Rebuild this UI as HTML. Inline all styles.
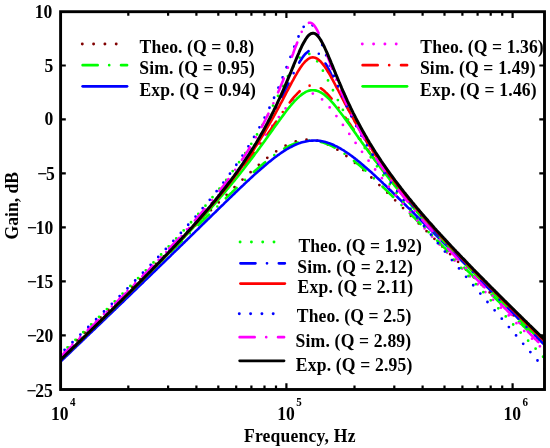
<!DOCTYPE html><html><head><meta charset="utf-8"><style>html,body{margin:0;padding:0;background:#fff;}svg{display:block}</style></head><body>
<svg width="550" height="448" viewBox="0 0 550 448">
<rect width="550" height="448" fill="#fff"/>
<defs><clipPath id="ax"><rect x="60.6" y="11.7" width="483.9" height="377.8"/></clipPath></defs>
<g clip-path="url(#ax)">
<path d="M60.2,356.1 61.4,355.0 62.5,353.9 63.7,352.8 64.8,351.6 66.0,350.5 67.2,349.4 68.3,348.3 69.5,347.2 70.6,346.1 71.8,345.0 72.9,343.9 74.1,342.8 75.3,341.7 76.4,340.5 77.6,339.4 78.7,338.3 79.9,337.2 81.1,336.1 82.2,335.0 83.4,333.9 84.5,332.8 85.7,331.7 86.8,330.5 88.0,329.4 89.2,328.3 90.3,327.2 91.5,326.1 92.6,325.0 93.8,323.9 95.0,322.8 96.1,321.7 97.3,320.5 98.4,319.4 99.6,318.3 100.8,317.2 101.9,316.1 103.1,315.0 104.2,313.9 105.4,312.7 106.5,311.6 107.7,310.5 108.9,309.4 110.0,308.3 111.2,307.2 112.3,306.1 113.5,304.9 114.7,303.8 115.8,302.7 117.0,301.6 118.1,300.5 119.3,299.4 120.4,298.3 121.6,297.1 122.8,296.0 123.9,294.9 125.1,293.8 126.2,292.7 127.4,291.6 128.6,290.4 129.7,289.3 130.9,288.2 132.0,287.1 133.2,286.0 134.4,284.8 135.5,283.7 136.7,282.6 137.8,281.5 139.0,280.4 140.1,279.2 141.3,278.1 142.5,277.0 143.6,275.9 144.8,274.8 145.9,273.6 147.1,272.5 148.3,271.4 149.4,270.3 150.6,269.1 151.7,268.0 152.9,266.9 154.0,265.8 155.2,264.7 156.4,263.5 157.5,262.4 158.7,261.3 159.8,260.1 161.0,259.0 162.2,257.9 163.3,256.8 164.5,255.6 165.6,254.5 166.8,253.4 167.9,252.3 169.1,251.1 170.3,250.0 171.4,248.9 172.6,247.7 173.7,246.6 174.9,245.5 176.1,244.3 177.2,243.2 178.4,242.1 179.5,240.9 180.7,239.8 181.9,238.7 183.0,237.5 184.2,236.4 185.3,235.3 186.5,234.1 187.6,233.0 188.8,231.9 190.0,230.7 191.1,229.6 192.3,228.5 193.4,227.3 194.6,226.2 195.8,225.1 196.9,223.9 198.1,222.8 199.2,221.6 200.4,220.5 201.5,219.4 202.7,218.2 203.9,217.1 205.0,216.0 206.2,214.8 207.3,213.7 208.5,212.5 209.7,211.4 210.8,210.3 212.0,209.1 213.1,208.0 214.3,206.9 215.5,205.7 216.6,204.6 217.8,203.5 218.9,202.3 220.1,201.2 221.2,200.1 222.4,198.9 223.6,197.8 224.7,196.7 225.9,195.5 227.0,194.4 228.2,193.3 229.4,192.2 230.5,191.0 231.7,189.9 232.8,188.8 234.0,187.7 235.1,186.6 236.3,185.5 237.5,184.4 238.6,183.3 239.8,182.2 240.9,181.1 242.1,180.0 243.3,178.9 244.4,177.8 245.6,176.7 246.7,175.7 247.9,174.6 249.1,173.5 250.2,172.5 251.4,171.4 252.5,170.4 253.7,169.3 254.8,168.3 256.0,167.3 257.2,166.3 258.3,165.3 259.5,164.3 260.6,163.3 261.8,162.3 263.0,161.4 264.1,160.4 265.3,159.5 266.4,158.5 267.6,157.6 268.7,156.7 269.9,155.9 271.1,155.0 272.2,154.1 273.4,153.3 274.5,152.5 275.7,151.7 276.9,150.9 278.0,150.1 279.2,149.4 280.3,148.7 281.5,148.0 282.7,147.3 283.8,146.7 285.0,146.0 286.1,145.4 287.3,144.8 288.4,144.3 289.6,143.8 290.8,143.3 291.9,142.8 293.1,142.4 294.2,142.0 295.4,141.6 296.6,141.3 297.7,140.9 298.9,140.7 300.0,140.4 301.2,140.2 302.3,140.0 303.5,139.9 304.7,139.7 305.8,139.7 307.0,139.6 308.1,139.6 309.3,139.6 310.5,139.7 311.6,139.8 312.8,139.9 313.9,140.0 315.1,140.2 316.3,140.4 317.4,140.7 318.6,141.0 319.7,141.3 320.9,141.6 322.0,142.0 323.2,142.4 324.4,142.9 325.5,143.3 326.7,143.8 327.8,144.4 329.0,144.9 330.2,145.5 331.3,146.1 332.5,146.7 333.6,147.4 334.8,148.1 335.9,148.8 337.1,149.5 338.3,150.2 339.4,151.0 340.6,151.8 341.7,152.6 342.9,153.4 344.1,154.2 345.2,155.1 346.4,156.0 347.5,156.9 348.7,157.8 349.9,158.7 351.0,159.6 352.2,160.5 353.3,161.5 354.5,162.5 355.6,163.4 356.8,164.4 358.0,165.4 359.1,166.4 360.3,167.4 361.4,168.5 362.6,169.5 363.8,170.5 364.9,171.6 366.1,172.6 367.2,173.7 368.4,174.7 369.5,175.8 370.7,176.9 371.9,178.0 373.0,179.0 374.2,180.1 375.3,181.2 376.5,182.3 377.7,183.4 378.8,184.5 380.0,185.6 381.1,186.7 382.3,187.8 383.4,189.0 384.6,190.1 385.8,191.2 386.9,192.3 388.1,193.4 389.2,194.6 390.4,195.7 391.6,196.8 392.7,197.9 393.9,199.1 395.0,200.2 396.2,201.3 397.4,202.5 398.5,203.6 399.7,204.7 400.8,205.9 402.0,207.0 403.1,208.1 404.3,209.3 405.5,210.4 406.6,211.6 407.8,212.7 408.9,213.8 410.1,215.0 411.3,216.1 412.4,217.2 413.6,218.4 414.7,219.5 415.9,220.7 417.0,221.8 418.2,222.9 419.4,224.1 420.5,225.2 421.7,226.3 422.8,227.5 424.0,228.6 425.2,229.8 426.3,230.9 427.5,232.0 428.6,233.2 429.8,234.3 431.0,235.4 432.1,236.6 433.3,237.7 434.4,238.8 435.6,240.0 436.7,241.1 437.9,242.2 439.1,243.4 440.2,244.5 441.4,245.6 442.5,246.8 443.7,247.9 444.9,249.0 446.0,250.1 447.2,251.3 448.3,252.4 449.5,253.5 450.6,254.7 451.8,255.8 453.0,256.9 454.1,258.0 455.3,259.2 456.4,260.3 457.6,261.4 458.8,262.5 459.9,263.7 461.1,264.8 462.2,265.9 463.4,267.0 464.6,268.2 465.7,269.3 466.9,270.4 468.0,271.5 469.2,272.7 470.3,273.8 471.5,274.9 472.7,276.0 473.8,277.2 475.0,278.3 476.1,279.4 477.3,280.5 478.5,281.6 479.6,282.8 480.8,283.9 481.9,285.0 483.1,286.1 484.2,287.2 485.4,288.3 486.6,289.5 487.7,290.6 488.9,291.7 490.0,292.8 491.2,293.9 492.4,295.1 493.5,296.2 494.7,297.3 495.8,298.4 497.0,299.5 498.2,300.6 499.3,301.8 500.5,302.9 501.6,304.0 502.8,305.1 503.9,306.2 505.1,307.3 506.3,308.4 507.4,309.6 508.6,310.7 509.7,311.8 510.9,312.9 512.1,314.0 513.2,315.1 514.4,316.2 515.5,317.4 516.7,318.5 517.8,319.6 519.0,320.7 520.2,321.8 521.3,322.9 522.5,324.0 523.6,325.1 524.8,326.2 526.0,327.4 527.1,328.5 528.3,329.6 529.4,330.7 530.6,331.8 531.8,332.9 532.9,334.0 534.1,335.1 535.2,336.2 536.4,337.4 537.5,338.5 538.7,339.6 539.9,340.7 541.0,341.8 542.2,342.9 543.3,344.0 544.5,345.1 545.7,346.2" stroke="#800000" stroke-width="2.8" fill="none" stroke-linecap="round" stroke-dasharray="0 11.0" stroke-dashoffset="10.14"/>
<path d="M60.2,358.3 61.4,357.2 62.5,356.1 63.7,355.0 64.8,353.9 66.0,352.8 67.2,351.7 68.3,350.6 69.5,349.5 70.6,348.4 71.8,347.3 72.9,346.1 74.1,345.0 75.3,343.9 76.4,342.8 77.6,341.7 78.7,340.6 79.9,339.5 81.1,338.4 82.2,337.3 83.4,336.2 84.5,335.0 85.7,333.9 86.8,332.8 88.0,331.7 89.2,330.6 90.3,329.5 91.5,328.4 92.6,327.3 93.8,326.2 95.0,325.0 96.1,323.9 97.3,322.8 98.4,321.7 99.6,320.6 100.8,319.5 101.9,318.4 103.1,317.3 104.2,316.2 105.4,315.0 106.5,313.9 107.7,312.8 108.9,311.7 110.0,310.6 111.2,309.5 112.3,308.4 113.5,307.2 114.7,306.1 115.8,305.0 117.0,303.9 118.1,302.8 119.3,301.7 120.4,300.6 121.6,299.4 122.8,298.3 123.9,297.2 125.1,296.1 126.2,295.0 127.4,293.9 128.6,292.8 129.7,291.6 130.9,290.5 132.0,289.4 133.2,288.3 134.4,287.2 135.5,286.1 136.7,284.9 137.8,283.8 139.0,282.7 140.1,281.6 141.3,280.5 142.5,279.3 143.6,278.2 144.8,277.1 145.9,276.0 147.1,274.9 148.3,273.7 149.4,272.6 150.6,271.5 151.7,270.4 152.9,269.3 154.0,268.1 155.2,267.0 156.4,265.9 157.5,264.8 158.7,263.6 159.8,262.5 161.0,261.4 162.2,260.3 163.3,259.2 164.5,258.0 165.6,256.9 166.8,255.8 167.9,254.7 169.1,253.5 170.3,252.4 171.4,251.3 172.6,250.1 173.7,249.0 174.9,247.9 176.1,246.8 177.2,245.6 178.4,244.5 179.5,243.4 180.7,242.3 181.9,241.1 183.0,240.0 184.2,238.9 185.3,237.7 186.5,236.6 187.6,235.5 188.8,234.3 190.0,233.2 191.1,232.1 192.3,230.9 193.4,229.8 194.6,228.7 195.8,227.5 196.9,226.4 198.1,225.3 199.2,224.2 200.4,223.0 201.5,221.9 202.7,220.8 203.9,219.6 205.0,218.5 206.2,217.4 207.3,216.2 208.5,215.1 209.7,214.0 210.8,212.8 212.0,211.7 213.1,210.6 214.3,209.4 215.5,208.3 216.6,207.2 217.8,206.0 218.9,204.9 220.1,203.8 221.2,202.7 222.4,201.5 223.6,200.4 224.7,199.3 225.9,198.2 227.0,197.1 228.2,195.9 229.4,194.8 230.5,193.7 231.7,192.6 232.8,191.5 234.0,190.4 235.1,189.3 236.3,188.1 237.5,187.0 238.6,185.9 239.8,184.9 240.9,183.8 242.1,182.7 243.3,181.6 244.4,180.5 245.6,179.4 246.7,178.3 247.9,177.3 249.1,176.2 250.2,175.2 251.4,174.1 252.5,173.1 253.7,172.0 254.8,171.0 256.0,170.0 257.2,169.0 258.3,167.9 259.5,166.9 260.6,166.0 261.8,165.0 263.0,164.0 264.1,163.0 265.3,162.1 266.4,161.1 267.6,160.2 268.7,159.3 269.9,158.4 271.1,157.5 272.2,156.6 273.4,155.8 274.5,155.0 275.7,154.1 276.9,153.3 278.0,152.5 279.2,151.8 280.3,151.0 281.5,150.3 282.7,149.6 283.8,148.9 285.0,148.2 286.1,147.6 287.3,147.0 288.4,146.4 289.6,145.8 290.8,145.3 291.9,144.7 293.1,144.3 294.2,143.8 295.4,143.4 296.6,143.0 297.7,142.6 298.9,142.3 300.0,141.9 301.2,141.7 302.3,141.4 303.5,141.2 304.7,141.0 305.8,140.9 307.0,140.7 308.1,140.7 309.3,140.6 310.5,140.6 311.6,140.6 312.8,140.7 313.9,140.7 315.1,140.9 316.3,141.0 317.4,141.2 318.6,141.4 319.7,141.7 320.9,141.9 322.0,142.2 323.2,142.6 324.4,143.0 325.5,143.4 326.7,143.8 327.8,144.3 329.0,144.7 330.2,145.3 331.3,145.8 332.5,146.4 333.6,147.0 334.8,147.6 335.9,148.2 337.1,148.9 338.3,149.6 339.4,150.3 340.6,151.0 341.7,151.8 342.9,152.6 344.1,153.4 345.2,154.2 346.4,155.0 347.5,155.9 348.7,156.7 349.9,157.6 351.0,158.5 352.2,159.4 353.3,160.3 354.5,161.3 355.6,162.2 356.8,163.2 358.0,164.1 359.1,165.1 360.3,166.1 361.4,167.1 362.6,168.1 363.8,169.1 364.9,170.2 366.1,171.2 367.2,172.2 368.4,173.3 369.5,174.4 370.7,175.4 371.9,176.5 373.0,177.6 374.2,178.6 375.3,179.7 376.5,180.8 377.7,181.9 378.8,183.0 380.0,184.1 381.1,185.2 382.3,186.3 383.4,187.5 384.6,188.6 385.8,189.7 386.9,190.8 388.1,191.9 389.2,193.1 390.4,194.2 391.6,195.3 392.7,196.5 393.9,197.6 395.0,198.7 396.2,199.9 397.4,201.0 398.5,202.2 399.7,203.3 400.8,204.4 402.0,205.6 403.1,206.7 404.3,207.9 405.5,209.0 406.6,210.2 407.8,211.3 408.9,212.5 410.1,213.6 411.3,214.8 412.4,215.9 413.6,217.1 414.7,218.2 415.9,219.4 417.0,220.6 418.2,221.7 419.4,222.9 420.5,224.0 421.7,225.2 422.8,226.3 424.0,227.5 425.2,228.6 426.3,229.8 427.5,230.9 428.6,232.1 429.8,233.2 431.0,234.4 432.1,235.6 433.3,236.7 434.4,237.9 435.6,239.0 436.7,240.2 437.9,241.3 439.1,242.5 440.2,243.6 441.4,244.8 442.5,245.9 443.7,247.1 444.9,248.2 446.0,249.4 447.2,250.6 448.3,251.7 449.5,252.9 450.6,254.0 451.8,255.2 453.0,256.3 454.1,257.5 455.3,258.6 456.4,259.8 457.6,260.9 458.8,262.1 459.9,263.2 461.1,264.4 462.2,265.5 463.4,266.7 464.6,267.8 465.7,269.0 466.9,270.1 468.0,271.3 469.2,272.4 470.3,273.6 471.5,274.7 472.7,275.9 473.8,277.0 475.0,278.2 476.1,279.3 477.3,280.5 478.5,281.6 479.6,282.8 480.8,283.9 481.9,285.0 483.1,286.2 484.2,287.3 485.4,288.5 486.6,289.6 487.7,290.8 488.9,291.9 490.0,293.1 491.2,294.2 492.4,295.4 493.5,296.5 494.7,297.7 495.8,298.8 497.0,299.9 498.2,301.1 499.3,302.2 500.5,303.4 501.6,304.5 502.8,305.7 503.9,306.8 505.1,308.0 506.3,309.1 507.4,310.2 508.6,311.4 509.7,312.5 510.9,313.7 512.1,314.8 513.2,316.0 514.4,317.1 515.5,318.3 516.7,319.4 517.8,320.5 519.0,321.7 520.2,322.8 521.3,324.0 522.5,325.1 523.6,326.3 524.8,327.4 526.0,328.5 527.1,329.7 528.3,330.8 529.4,332.0 530.6,333.1 531.8,334.2 532.9,335.4 534.1,336.5 535.2,337.7 536.4,338.8 537.5,340.0 538.7,341.1 539.9,342.2 541.0,343.4 542.2,344.5 543.3,345.7 544.5,346.8 545.7,347.9" stroke="#00ff00" stroke-width="2.6" fill="none" stroke-linecap="round" stroke-dasharray="15 11.55 0 11.85" stroke-dashoffset="0"/>
<path d="M60.2,361.9 61.4,360.8 62.5,359.7 63.7,358.6 64.8,357.5 66.0,356.4 67.2,355.3 68.3,354.2 69.5,353.1 70.6,352.0 71.8,350.9 72.9,349.7 74.1,348.6 75.3,347.5 76.4,346.4 77.6,345.3 78.7,344.2 79.9,343.1 81.1,342.0 82.2,340.9 83.4,339.8 84.5,338.7 85.7,337.5 86.8,336.4 88.0,335.3 89.2,334.2 90.3,333.1 91.5,332.0 92.6,330.9 93.8,329.8 95.0,328.7 96.1,327.5 97.3,326.4 98.4,325.3 99.6,324.2 100.8,323.1 101.9,322.0 103.1,320.9 104.2,319.8 105.4,318.7 106.5,317.5 107.7,316.4 108.9,315.3 110.0,314.2 111.2,313.1 112.3,312.0 113.5,310.9 114.7,309.8 115.8,308.6 117.0,307.5 118.1,306.4 119.3,305.3 120.4,304.2 121.6,303.1 122.8,302.0 123.9,300.8 125.1,299.7 126.2,298.6 127.4,297.5 128.6,296.4 129.7,295.3 130.9,294.1 132.0,293.0 133.2,291.9 134.4,290.8 135.5,289.7 136.7,288.6 137.8,287.4 139.0,286.3 140.1,285.2 141.3,284.1 142.5,283.0 143.6,281.9 144.8,280.7 145.9,279.6 147.1,278.5 148.3,277.4 149.4,276.3 150.6,275.1 151.7,274.0 152.9,272.9 154.0,271.8 155.2,270.7 156.4,269.5 157.5,268.4 158.7,267.3 159.8,266.2 161.0,265.0 162.2,263.9 163.3,262.8 164.5,261.7 165.6,260.6 166.8,259.4 167.9,258.3 169.1,257.2 170.3,256.1 171.4,254.9 172.6,253.8 173.7,252.7 174.9,251.5 176.1,250.4 177.2,249.3 178.4,248.2 179.5,247.0 180.7,245.9 181.9,244.8 183.0,243.7 184.2,242.5 185.3,241.4 186.5,240.3 187.6,239.1 188.8,238.0 190.0,236.9 191.1,235.7 192.3,234.6 193.4,233.5 194.6,232.4 195.8,231.2 196.9,230.1 198.1,229.0 199.2,227.8 200.4,226.7 201.5,225.6 202.7,224.4 203.9,223.3 205.0,222.2 206.2,221.0 207.3,219.9 208.5,218.8 209.7,217.6 210.8,216.5 212.0,215.4 213.1,214.2 214.3,213.1 215.5,212.0 216.6,210.8 217.8,209.7 218.9,208.6 220.1,207.4 221.2,206.3 222.4,205.2 223.6,204.1 224.7,202.9 225.9,201.8 227.0,200.7 228.2,199.6 229.4,198.4 230.5,197.3 231.7,196.2 232.8,195.1 234.0,194.0 235.1,192.8 236.3,191.7 237.5,190.6 238.6,189.5 239.8,188.4 240.9,187.3 242.1,186.2 243.3,185.1 244.4,184.0 245.6,182.9 246.7,181.8 247.9,180.8 249.1,179.7 250.2,178.6 251.4,177.5 252.5,176.5 253.7,175.4 254.8,174.4 256.0,173.3 257.2,172.3 258.3,171.2 259.5,170.2 260.6,169.2 261.8,168.2 263.0,167.2 264.1,166.2 265.3,165.2 266.4,164.2 267.6,163.2 268.7,162.3 269.9,161.4 271.1,160.4 272.2,159.5 273.4,158.6 274.5,157.7 275.7,156.8 276.9,156.0 278.0,155.1 279.2,154.3 280.3,153.5 281.5,152.7 282.7,151.9 283.8,151.2 285.0,150.4 286.1,149.7 287.3,149.0 288.4,148.3 289.6,147.7 290.8,147.1 291.9,146.5 293.1,145.9 294.2,145.3 295.4,144.8 296.6,144.3 297.7,143.9 298.9,143.4 300.0,143.0 301.2,142.6 302.3,142.3 303.5,142.0 304.7,141.7 305.8,141.4 307.0,141.2 308.1,141.0 309.3,140.8 310.5,140.7 311.6,140.6 312.8,140.6 313.9,140.5 315.1,140.5 316.3,140.6 317.4,140.7 318.6,140.8 319.7,140.9 320.9,141.1 322.0,141.3 323.2,141.5 324.4,141.8 325.5,142.1 326.7,142.4 327.8,142.8 329.0,143.2 330.2,143.6 331.3,144.0 332.5,144.5 333.6,145.0 334.8,145.6 335.9,146.1 337.1,146.7 338.3,147.3 339.4,148.0 340.6,148.6 341.7,149.3 342.9,150.0 344.1,150.7 345.2,151.5 346.4,152.3 347.5,153.0 348.7,153.8 349.9,154.7 351.0,155.5 352.2,156.4 353.3,157.2 354.5,158.1 355.6,159.0 356.8,159.9 358.0,160.9 359.1,161.8 360.3,162.8 361.4,163.7 362.6,164.7 363.8,165.7 364.9,166.7 366.1,167.7 367.2,168.7 368.4,169.7 369.5,170.8 370.7,171.8 371.9,172.8 373.0,173.9 374.2,175.0 375.3,176.0 376.5,177.1 377.7,178.2 378.8,179.2 380.0,180.3 381.1,181.4 382.3,182.5 383.4,183.6 384.6,184.7 385.8,185.8 386.9,186.9 388.1,188.0 389.2,189.2 390.4,190.3 391.6,191.4 392.7,192.5 393.9,193.6 395.0,194.8 396.2,195.9 397.4,197.0 398.5,198.2 399.7,199.3 400.8,200.4 402.0,201.6 403.1,202.7 404.3,203.8 405.5,205.0 406.6,206.1 407.8,207.3 408.9,208.4 410.1,209.6 411.3,210.7 412.4,211.8 413.6,213.0 414.7,214.1 415.9,215.3 417.0,216.4 418.2,217.6 419.4,218.7 420.5,219.9 421.7,221.0 422.8,222.2 424.0,223.3 425.2,224.5 426.3,225.6 427.5,226.8 428.6,227.9 429.8,229.0 431.0,230.2 432.1,231.3 433.3,232.5 434.4,233.6 435.6,234.8 436.7,235.9 437.9,237.1 439.1,238.2 440.2,239.4 441.4,240.5 442.5,241.7 443.7,242.8 444.9,244.0 446.0,245.1 447.2,246.2 448.3,247.4 449.5,248.5 450.6,249.7 451.8,250.8 453.0,252.0 454.1,253.1 455.3,254.3 456.4,255.4 457.6,256.5 458.8,257.7 459.9,258.8 461.1,260.0 462.2,261.1 463.4,262.3 464.6,263.4 465.7,264.5 466.9,265.7 468.0,266.8 469.2,268.0 470.3,269.1 471.5,270.2 472.7,271.4 473.8,272.5 475.0,273.7 476.1,274.8 477.3,275.9 478.5,277.1 479.6,278.2 480.8,279.4 481.9,280.5 483.1,281.6 484.2,282.8 485.4,283.9 486.6,285.1 487.7,286.2 488.9,287.3 490.0,288.5 491.2,289.6 492.4,290.7 493.5,291.9 494.7,293.0 495.8,294.1 497.0,295.3 498.2,296.4 499.3,297.6 500.5,298.7 501.6,299.8 502.8,301.0 503.9,302.1 505.1,303.2 506.3,304.4 507.4,305.5 508.6,306.6 509.7,307.8 510.9,308.9 512.1,310.0 513.2,311.2 514.4,312.3 515.5,313.4 516.7,314.6 517.8,315.7 519.0,316.8 520.2,318.0 521.3,319.1 522.5,320.2 523.6,321.4 524.8,322.5 526.0,323.6 527.1,324.8 528.3,325.9 529.4,327.0 530.6,328.2 531.8,329.3 532.9,330.4 534.1,331.6 535.2,332.7 536.4,333.8 537.5,335.0 538.7,336.1 539.9,337.2 541.0,338.4 542.2,339.5 543.3,340.6 544.5,341.7 545.7,342.9" stroke="#0000ff" stroke-width="2.6" fill="none" stroke-linejoin="round"/>
<path d="M60.2,356.5 61.4,355.3 62.5,354.2 63.7,353.1 64.8,352.0 66.0,350.9 67.2,349.8 68.3,348.6 69.5,347.5 70.6,346.4 71.8,345.3 72.9,344.2 74.1,343.1 75.3,341.9 76.4,340.8 77.6,339.7 78.7,338.6 79.9,337.5 81.1,336.3 82.2,335.2 83.4,334.1 84.5,333.0 85.7,331.9 86.8,330.7 88.0,329.6 89.2,328.5 90.3,327.4 91.5,326.2 92.6,325.1 93.8,324.0 95.0,322.9 96.1,321.7 97.3,320.6 98.4,319.5 99.6,318.4 100.8,317.2 101.9,316.1 103.1,315.0 104.2,313.9 105.4,312.7 106.5,311.6 107.7,310.5 108.9,309.3 110.0,308.2 111.2,307.1 112.3,305.9 113.5,304.8 114.7,303.7 115.8,302.5 117.0,301.4 118.1,300.3 119.3,299.1 120.4,298.0 121.6,296.8 122.8,295.7 123.9,294.6 125.1,293.4 126.2,292.3 127.4,291.1 128.6,290.0 129.7,288.8 130.9,287.7 132.0,286.6 133.2,285.4 134.4,284.3 135.5,283.1 136.7,282.0 137.8,280.8 139.0,279.7 140.1,278.5 141.3,277.3 142.5,276.2 143.6,275.0 144.8,273.9 145.9,272.7 147.1,271.5 148.3,270.4 149.4,269.2 150.6,268.1 151.7,266.9 152.9,265.7 154.0,264.5 155.2,263.4 156.4,262.2 157.5,261.0 158.7,259.9 159.8,258.7 161.0,257.5 162.2,256.3 163.3,255.1 164.5,253.9 165.6,252.8 166.8,251.6 167.9,250.4 169.1,249.2 170.3,248.0 171.4,246.8 172.6,245.6 173.7,244.4 174.9,243.2 176.1,242.0 177.2,240.8 178.4,239.5 179.5,238.3 180.7,237.1 181.9,235.9 183.0,234.7 184.2,233.4 185.3,232.2 186.5,231.0 187.6,229.7 188.8,228.5 190.0,227.3 191.1,226.0 192.3,224.8 193.4,223.5 194.6,222.3 195.8,221.0 196.9,219.7 198.1,218.5 199.2,217.2 200.4,215.9 201.5,214.7 202.7,213.4 203.9,212.1 205.0,210.8 206.2,209.5 207.3,208.2 208.5,206.9 209.7,205.6 210.8,204.3 212.0,203.0 213.1,201.6 214.3,200.3 215.5,199.0 216.6,197.6 217.8,196.3 218.9,194.9 220.1,193.6 221.2,192.2 222.4,190.8 223.6,189.5 224.7,188.1 225.9,186.7 227.0,185.3 228.2,183.9 229.4,182.5 230.5,181.1 231.7,179.7 232.8,178.3 234.0,176.8 235.1,175.4 236.3,173.9 237.5,172.5 238.6,171.0 239.8,169.6 240.9,168.1 242.1,166.6 243.3,165.1 244.4,163.6 245.6,162.1 246.7,160.6 247.9,159.1 249.1,157.6 250.2,156.0 251.4,154.5 252.5,152.9 253.7,151.4 254.8,149.8 256.0,148.3 257.2,146.7 258.3,145.1 259.5,143.5 260.6,141.9 261.8,140.4 263.0,138.8 264.1,137.2 265.3,135.6 266.4,134.0 267.6,132.3 268.7,130.7 269.9,129.1 271.1,127.5 272.2,125.9 273.4,124.4 274.5,122.8 275.7,121.2 276.9,119.6 278.0,118.1 279.2,116.6 280.3,115.0 281.5,113.5 282.7,112.1 283.8,110.6 285.0,109.2 286.1,107.8 287.3,106.5 288.4,105.2 289.6,103.9 290.8,102.7 291.9,101.5 293.1,100.4 294.2,99.3 295.4,98.4 296.6,97.4 297.7,96.6 298.9,95.8 300.0,95.1 301.2,94.5 302.3,94.0 303.5,93.6 304.7,93.3 305.8,93.0 307.0,92.9 308.1,92.8 309.3,92.9 310.5,93.0 311.6,93.3 312.8,93.6 313.9,94.1 315.1,94.6 316.3,95.2 317.4,95.9 318.6,96.7 319.7,97.5 320.9,98.4 322.0,99.4 323.2,100.5 324.4,101.6 325.5,102.8 326.7,104.0 327.8,105.3 329.0,106.7 330.2,108.0 331.3,109.4 332.5,110.9 333.6,112.4 334.8,113.9 335.9,115.4 337.1,116.9 338.3,118.5 339.4,120.1 340.6,121.7 341.7,123.3 342.9,124.9 344.1,126.5 345.2,128.2 346.4,129.8 347.5,131.4 348.7,133.1 349.9,134.7 351.0,136.4 352.2,138.0 353.3,139.6 354.5,141.3 355.6,142.9 356.8,144.5 358.0,146.1 359.1,147.7 360.3,149.4 361.4,151.0 362.6,152.6 363.8,154.1 364.9,155.7 366.1,157.3 367.2,158.9 368.4,160.4 369.5,162.0 370.7,163.5 371.9,165.1 373.0,166.6 374.2,168.1 375.3,169.7 376.5,171.2 377.7,172.7 378.8,174.2 380.0,175.7 381.1,177.1 382.3,178.6 383.4,180.1 384.6,181.5 385.8,183.0 386.9,184.4 388.1,185.9 389.2,187.3 390.4,188.7 391.6,190.2 392.7,191.6 393.9,193.0 395.0,194.4 396.2,195.8 397.4,197.2 398.5,198.6 399.7,199.9 400.8,201.3 402.0,202.7 403.1,204.0 404.3,205.4 405.5,206.7 406.6,208.1 407.8,209.4 408.9,210.8 410.1,212.1 411.3,213.4 412.4,214.7 413.6,216.1 414.7,217.4 415.9,218.7 417.0,220.0 418.2,221.3 419.4,222.6 420.5,223.9 421.7,225.2 422.8,226.5 424.0,227.7 425.2,229.0 426.3,230.3 427.5,231.6 428.6,232.8 429.8,234.1 431.0,235.4 432.1,236.6 433.3,237.9 434.4,239.1 435.6,240.4 436.7,241.6 437.9,242.9 439.1,244.1 440.2,245.4 441.4,246.6 442.5,247.8 443.7,249.1 444.9,250.3 446.0,251.5 447.2,252.7 448.3,254.0 449.5,255.2 450.6,256.4 451.8,257.6 453.0,258.8 454.1,260.0 455.3,261.2 456.4,262.4 457.6,263.7 458.8,264.9 459.9,266.1 461.1,267.3 462.2,268.5 463.4,269.7 464.6,270.8 465.7,272.0 466.9,273.2 468.0,274.4 469.2,275.6 470.3,276.8 471.5,278.0 472.7,279.2 473.8,280.4 475.0,281.5 476.1,282.7 477.3,283.9 478.5,285.1 479.6,286.3 480.8,287.4 481.9,288.6 483.1,289.8 484.2,291.0 485.4,292.1 486.6,293.3 487.7,294.5 488.9,295.6 490.0,296.8 491.2,298.0 492.4,299.1 493.5,300.3 494.7,301.5 495.8,302.6 497.0,303.8 498.2,305.0 499.3,306.1 500.5,307.3 501.6,308.4 502.8,309.6 503.9,310.7 505.1,311.9 506.3,313.1 507.4,314.2 508.6,315.4 509.7,316.5 510.9,317.7 512.1,318.8 513.2,320.0 514.4,321.1 515.5,322.3 516.7,323.4 517.8,324.6 519.0,325.7 520.2,326.9 521.3,328.0 522.5,329.2 523.6,330.3 524.8,331.5 526.0,332.6 527.1,333.8 528.3,334.9 529.4,336.1 530.6,337.2 531.8,338.4 532.9,339.5 534.1,340.6 535.2,341.8 536.4,342.9 537.5,344.1 538.7,345.2 539.9,346.4 541.0,347.5 542.2,348.6 543.3,349.8 544.5,350.9 545.7,352.1" stroke="#ff00ff" stroke-width="2.8" fill="none" stroke-linecap="round" stroke-dasharray="0 11.0" stroke-dashoffset="5.00"/>
<path d="M60.2,359.5 61.4,358.4 62.5,357.3 63.7,356.1 64.8,355.0 66.0,353.9 67.2,352.8 68.3,351.7 69.5,350.6 70.6,349.4 71.8,348.3 72.9,347.2 74.1,346.1 75.3,345.0 76.4,343.9 77.6,342.7 78.7,341.6 79.9,340.5 81.1,339.4 82.2,338.3 83.4,337.1 84.5,336.0 85.7,334.9 86.8,333.8 88.0,332.6 89.2,331.5 90.3,330.4 91.5,329.3 92.6,328.1 93.8,327.0 95.0,325.9 96.1,324.8 97.3,323.6 98.4,322.5 99.6,321.4 100.8,320.3 101.9,319.1 103.1,318.0 104.2,316.9 105.4,315.7 106.5,314.6 107.7,313.5 108.9,312.3 110.0,311.2 111.2,310.1 112.3,308.9 113.5,307.8 114.7,306.7 115.8,305.5 117.0,304.4 118.1,303.3 119.3,302.1 120.4,301.0 121.6,299.8 122.8,298.7 123.9,297.6 125.1,296.4 126.2,295.3 127.4,294.1 128.6,293.0 129.7,291.8 130.9,290.7 132.0,289.5 133.2,288.4 134.4,287.2 135.5,286.1 136.7,284.9 137.8,283.8 139.0,282.6 140.1,281.5 141.3,280.3 142.5,279.2 143.6,278.0 144.8,276.8 145.9,275.7 147.1,274.5 148.3,273.3 149.4,272.2 150.6,271.0 151.7,269.8 152.9,268.7 154.0,267.5 155.2,266.3 156.4,265.2 157.5,264.0 158.7,262.8 159.8,261.6 161.0,260.4 162.2,259.2 163.3,258.1 164.5,256.9 165.6,255.7 166.8,254.5 167.9,253.3 169.1,252.1 170.3,250.9 171.4,249.7 172.6,248.5 173.7,247.3 174.9,246.1 176.1,244.9 177.2,243.7 178.4,242.4 179.5,241.2 180.7,240.0 181.9,238.8 183.0,237.6 184.2,236.3 185.3,235.1 186.5,233.9 187.6,232.6 188.8,231.4 190.0,230.1 191.1,228.9 192.3,227.6 193.4,226.4 194.6,225.1 195.8,223.9 196.9,222.6 198.1,221.3 199.2,220.0 200.4,218.8 201.5,217.5 202.7,216.2 203.9,214.9 205.0,213.6 206.2,212.3 207.3,211.0 208.5,209.7 209.7,208.4 210.8,207.1 212.0,205.7 213.1,204.4 214.3,203.1 215.5,201.7 216.6,200.4 217.8,199.1 218.9,197.7 220.1,196.3 221.2,195.0 222.4,193.6 223.6,192.2 224.7,190.8 225.9,189.4 227.0,188.0 228.2,186.6 229.4,185.2 230.5,183.8 231.7,182.4 232.8,180.9 234.0,179.5 235.1,178.0 236.3,176.6 237.5,175.1 238.6,173.6 239.8,172.1 240.9,170.7 242.1,169.2 243.3,167.7 244.4,166.1 245.6,164.6 246.7,163.1 247.9,161.5 249.1,160.0 250.2,158.4 251.4,156.9 252.5,155.3 253.7,153.7 254.8,152.1 256.0,150.5 257.2,148.9 258.3,147.3 259.5,145.6 260.6,144.0 261.8,142.4 263.0,140.7 264.1,139.1 265.3,137.4 266.4,135.7 267.6,134.0 268.7,132.4 269.9,130.7 271.1,129.0 272.2,127.3 273.4,125.6 274.5,123.9 275.7,122.2 276.9,120.5 278.0,118.8 279.2,117.1 280.3,115.4 281.5,113.8 282.7,112.1 283.8,110.5 285.0,108.8 286.1,107.2 287.3,105.7 288.4,104.1 289.6,102.6 290.8,101.1 291.9,99.6 293.1,98.2 294.2,96.9 295.4,95.6 296.6,94.3 297.7,93.1 298.9,92.0 300.0,90.9 301.2,90.0 302.3,89.1 303.5,88.3 304.7,87.5 305.8,86.9 307.0,86.4 308.1,86.0 309.3,85.7 310.5,85.4 311.6,85.3 312.8,85.3 313.9,85.5 315.1,85.7 316.3,86.0 317.4,86.4 318.6,87.0 319.7,87.6 320.9,88.3 322.0,89.1 323.2,90.0 324.4,91.0 325.5,92.1 326.7,93.2 327.8,94.4 329.0,95.7 330.2,97.0 331.3,98.3 332.5,99.8 333.6,101.2 334.8,102.7 335.9,104.2 337.1,105.8 338.3,107.4 339.4,109.0 340.6,110.6 341.7,112.3 342.9,113.9 344.1,115.6 345.2,117.3 346.4,119.0 347.5,120.7 348.7,122.4 349.9,124.1 351.0,125.8 352.2,127.5 353.3,129.2 354.5,130.9 355.6,132.6 356.8,134.2 358.0,135.9 359.1,137.6 360.3,139.3 361.4,140.9 362.6,142.6 363.8,144.2 364.9,145.9 366.1,147.5 367.2,149.1 368.4,150.8 369.5,152.4 370.7,154.0 371.9,155.6 373.0,157.1 374.2,158.7 375.3,160.3 376.5,161.8 377.7,163.4 378.8,164.9 380.0,166.4 381.1,168.0 382.3,169.5 383.4,171.0 384.6,172.5 385.8,174.0 386.9,175.4 388.1,176.9 389.2,178.4 390.4,179.8 391.6,181.3 392.7,182.7 393.9,184.1 395.0,185.6 396.2,187.0 397.4,188.4 398.5,189.8 399.7,191.2 400.8,192.6 402.0,194.0 403.1,195.4 404.3,196.7 405.5,198.1 406.6,199.5 407.8,200.8 408.9,202.2 410.1,203.5 411.3,204.9 412.4,206.2 413.6,207.5 414.7,208.9 415.9,210.2 417.0,211.5 418.2,212.8 419.4,214.1 420.5,215.4 421.7,216.7 422.8,218.0 424.0,219.3 425.2,220.6 426.3,221.9 427.5,223.1 428.6,224.4 429.8,225.7 431.0,226.9 432.1,228.2 433.3,229.5 434.4,230.7 435.6,232.0 436.7,233.2 437.9,234.5 439.1,235.7 440.2,237.0 441.4,238.2 442.5,239.4 443.7,240.7 444.9,241.9 446.0,243.1 447.2,244.3 448.3,245.6 449.5,246.8 450.6,248.0 451.8,249.2 453.0,250.4 454.1,251.6 455.3,252.8 456.4,254.0 457.6,255.2 458.8,256.4 459.9,257.6 461.1,258.8 462.2,260.0 463.4,261.2 464.6,262.4 465.7,263.6 466.9,264.8 468.0,266.0 469.2,267.2 470.3,268.4 471.5,269.5 472.7,270.7 473.8,271.9 475.0,273.1 476.1,274.3 477.3,275.4 478.5,276.6 479.6,277.8 480.8,278.9 481.9,280.1 483.1,281.3 484.2,282.4 485.4,283.6 486.6,284.8 487.7,285.9 488.9,287.1 490.0,288.3 491.2,289.4 492.4,290.6 493.5,291.7 494.7,292.9 495.8,294.1 497.0,295.2 498.2,296.4 499.3,297.5 500.5,298.7 501.6,299.8 502.8,301.0 503.9,302.1 505.1,303.3 506.3,304.4 507.4,305.6 508.6,306.7 509.7,307.9 510.9,309.0 512.1,310.1 513.2,311.3 514.4,312.4 515.5,313.6 516.7,314.7 517.8,315.9 519.0,317.0 520.2,318.1 521.3,319.3 522.5,320.4 523.6,321.6 524.8,322.7 526.0,323.8 527.1,325.0 528.3,326.1 529.4,327.3 530.6,328.4 531.8,329.5 532.9,330.7 534.1,331.8 535.2,332.9 536.4,334.1 537.5,335.2 538.7,336.3 539.9,337.5 541.0,338.6 542.2,339.7 543.3,340.9 544.5,342.0 545.7,343.1" stroke="#ff0000" stroke-width="2.6" fill="none" stroke-linecap="round" stroke-dasharray="15 11.55 0 11.85" stroke-dashoffset="0"/>
<path d="M60.2,360.2 61.4,359.1 62.5,358.0 63.7,356.9 64.8,355.8 66.0,354.7 67.2,353.5 68.3,352.4 69.5,351.3 70.6,350.2 71.8,349.1 72.9,348.0 74.1,346.8 75.3,345.7 76.4,344.6 77.6,343.5 78.7,342.4 79.9,341.2 81.1,340.1 82.2,339.0 83.4,337.9 84.5,336.8 85.7,335.6 86.8,334.5 88.0,333.4 89.2,332.3 90.3,331.1 91.5,330.0 92.6,328.9 93.8,327.8 95.0,326.7 96.1,325.5 97.3,324.4 98.4,323.3 99.6,322.2 100.8,321.0 101.9,319.9 103.1,318.8 104.2,317.6 105.4,316.5 106.5,315.4 107.7,314.3 108.9,313.1 110.0,312.0 111.2,310.9 112.3,309.7 113.5,308.6 114.7,307.5 115.8,306.3 117.0,305.2 118.1,304.0 119.3,302.9 120.4,301.8 121.6,300.6 122.8,299.5 123.9,298.4 125.1,297.2 126.2,296.1 127.4,294.9 128.6,293.8 129.7,292.6 130.9,291.5 132.0,290.4 133.2,289.2 134.4,288.1 135.5,286.9 136.7,285.8 137.8,284.6 139.0,283.5 140.1,282.3 141.3,281.2 142.5,280.0 143.6,278.8 144.8,277.7 145.9,276.5 147.1,275.4 148.3,274.2 149.4,273.0 150.6,271.9 151.7,270.7 152.9,269.5 154.0,268.4 155.2,267.2 156.4,266.0 157.5,264.9 158.7,263.7 159.8,262.5 161.0,261.3 162.2,260.1 163.3,259.0 164.5,257.8 165.6,256.6 166.8,255.4 167.9,254.2 169.1,253.0 170.3,251.8 171.4,250.6 172.6,249.4 173.7,248.2 174.9,247.0 176.1,245.8 177.2,244.6 178.4,243.4 179.5,242.2 180.7,241.0 181.9,239.8 183.0,238.6 184.2,237.3 185.3,236.1 186.5,234.9 187.6,233.6 188.8,232.4 190.0,231.2 191.1,229.9 192.3,228.7 193.4,227.4 194.6,226.2 195.8,224.9 196.9,223.7 198.1,222.4 199.2,221.2 200.4,219.9 201.5,218.6 202.7,217.4 203.9,216.1 205.0,214.8 206.2,213.5 207.3,212.2 208.5,210.9 209.7,209.6 210.8,208.3 212.0,207.0 213.1,205.7 214.3,204.4 215.5,203.0 216.6,201.7 217.8,200.4 218.9,199.0 220.1,197.7 221.2,196.3 222.4,195.0 223.6,193.6 224.7,192.3 225.9,190.9 227.0,189.5 228.2,188.1 229.4,186.7 230.5,185.3 231.7,183.9 232.8,182.5 234.0,181.1 235.1,179.7 236.3,178.2 237.5,176.8 238.6,175.4 239.8,173.9 240.9,172.4 242.1,171.0 243.3,169.5 244.4,168.0 245.6,166.5 246.7,165.0 247.9,163.5 249.1,162.0 250.2,160.5 251.4,159.0 252.5,157.4 253.7,155.9 254.8,154.3 256.0,152.8 257.2,151.2 258.3,149.6 259.5,148.1 260.6,146.5 261.8,144.9 263.0,143.3 264.1,141.7 265.3,140.1 266.4,138.5 267.6,136.9 268.7,135.2 269.9,133.6 271.1,132.0 272.2,130.4 273.4,128.7 274.5,127.1 275.7,125.5 276.9,123.9 278.0,122.3 279.2,120.7 280.3,119.1 281.5,117.5 282.7,115.9 283.8,114.4 285.0,112.8 286.1,111.3 287.3,109.8 288.4,108.3 289.6,106.9 290.8,105.5 291.9,104.1 293.1,102.8 294.2,101.5 295.4,100.2 296.6,99.1 297.7,97.9 298.9,96.9 300.0,95.9 301.2,94.9 302.3,94.1 303.5,93.3 304.7,92.6 305.8,91.9 307.0,91.4 308.1,91.0 309.3,90.6 310.5,90.4 311.6,90.2 312.8,90.2 313.9,90.2 315.1,90.4 316.3,90.6 317.4,90.9 318.6,91.3 319.7,91.9 320.9,92.5 322.0,93.2 323.2,93.9 324.4,94.8 325.5,95.7 326.7,96.7 327.8,97.8 329.0,98.9 330.2,100.1 331.3,101.3 332.5,102.6 333.6,103.9 334.8,105.3 335.9,106.7 337.1,108.2 338.3,109.7 339.4,111.2 340.6,112.7 341.7,114.2 342.9,115.8 344.1,117.4 345.2,119.0 346.4,120.6 347.5,122.2 348.7,123.8 349.9,125.4 351.0,127.1 352.2,128.7 353.3,130.3 354.5,132.0 355.6,133.6 356.8,135.3 358.0,136.9 359.1,138.5 360.3,140.1 361.4,141.8 362.6,143.4 363.8,145.0 364.9,146.6 366.1,148.2 367.2,149.8 368.4,151.4 369.5,153.0 370.7,154.5 371.9,156.1 373.0,157.7 374.2,159.2 375.3,160.8 376.5,162.3 377.7,163.8 378.8,165.3 380.0,166.9 381.1,168.4 382.3,169.9 383.4,171.4 384.6,172.8 385.8,174.3 386.9,175.8 388.1,177.3 389.2,178.7 390.4,180.2 391.6,181.6 392.7,183.0 393.9,184.5 395.0,185.9 396.2,187.3 397.4,188.7 398.5,190.1 399.7,191.5 400.8,192.9 402.0,194.3 403.1,195.7 404.3,197.1 405.5,198.4 406.6,199.8 407.8,201.2 408.9,202.5 410.1,203.9 411.3,205.2 412.4,206.6 413.6,207.9 414.7,209.2 415.9,210.6 417.0,211.9 418.2,213.2 419.4,214.5 420.5,215.8 421.7,217.1 422.8,218.4 424.0,219.7 425.2,221.0 426.3,222.3 427.5,223.6 428.6,224.9 429.8,226.2 431.0,227.4 432.1,228.7 433.3,230.0 434.4,231.3 435.6,232.5 436.7,233.8 437.9,235.0 439.1,236.3 440.2,237.5 441.4,238.8 442.5,240.0 443.7,241.3 444.9,242.5 446.0,243.8 447.2,245.0 448.3,246.2 449.5,247.5 450.6,248.7 451.8,249.9 453.0,251.2 454.1,252.4 455.3,253.6 456.4,254.8 457.6,256.0 458.8,257.3 459.9,258.5 461.1,259.7 462.2,260.9 463.4,262.1 464.6,263.3 465.7,264.5 466.9,265.7 468.0,266.9 469.2,268.1 470.3,269.3 471.5,270.5 472.7,271.7 473.8,272.9 475.0,274.1 476.1,275.3 477.3,276.5 478.5,277.7 479.6,278.9 480.8,280.1 481.9,281.3 483.1,282.4 484.2,283.6 485.4,284.8 486.6,286.0 487.7,287.2 488.9,288.4 490.0,289.5 491.2,290.7 492.4,291.9 493.5,293.1 494.7,294.2 495.8,295.4 497.0,296.6 498.2,297.8 499.3,298.9 500.5,300.1 501.6,301.3 502.8,302.4 503.9,303.6 505.1,304.8 506.3,306.0 507.4,307.1 508.6,308.3 509.7,309.5 510.9,310.6 512.1,311.8 513.2,312.9 514.4,314.1 515.5,315.3 516.7,316.4 517.8,317.6 519.0,318.8 520.2,319.9 521.3,321.1 522.5,322.2 523.6,323.4 524.8,324.6 526.0,325.7 527.1,326.9 528.3,328.0 529.4,329.2 530.6,330.3 531.8,331.5 532.9,332.7 534.1,333.8 535.2,335.0 536.4,336.1 537.5,337.3 538.7,338.4 539.9,339.6 541.0,340.7 542.2,341.9 543.3,343.0 544.5,344.2 545.7,345.3" stroke="#00ff00" stroke-width="2.6" fill="none" stroke-linejoin="round"/>
<path d="M60.2,354.6 61.4,353.5 62.5,352.3 63.7,351.2 64.8,350.1 66.0,349.0 67.2,347.9 68.3,346.7 69.5,345.6 70.6,344.5 71.8,343.4 72.9,342.3 74.1,341.1 75.3,340.0 76.4,338.9 77.6,337.8 78.7,336.6 79.9,335.5 81.1,334.4 82.2,333.3 83.4,332.1 84.5,331.0 85.7,329.9 86.8,328.8 88.0,327.6 89.2,326.5 90.3,325.4 91.5,324.2 92.6,323.1 93.8,322.0 95.0,320.8 96.1,319.7 97.3,318.6 98.4,317.4 99.6,316.3 100.8,315.2 101.9,314.0 103.1,312.9 104.2,311.8 105.4,310.6 106.5,309.5 107.7,308.4 108.9,307.2 110.0,306.1 111.2,304.9 112.3,303.8 113.5,302.6 114.7,301.5 115.8,300.4 117.0,299.2 118.1,298.1 119.3,296.9 120.4,295.8 121.6,294.6 122.8,293.5 123.9,292.3 125.1,291.2 126.2,290.0 127.4,288.8 128.6,287.7 129.7,286.5 130.9,285.4 132.0,284.2 133.2,283.0 134.4,281.9 135.5,280.7 136.7,279.6 137.8,278.4 139.0,277.2 140.1,276.0 141.3,274.9 142.5,273.7 143.6,272.5 144.8,271.3 145.9,270.2 147.1,269.0 148.3,267.8 149.4,266.6 150.6,265.4 151.7,264.2 152.9,263.0 154.0,261.9 155.2,260.7 156.4,259.5 157.5,258.3 158.7,257.1 159.8,255.9 161.0,254.6 162.2,253.4 163.3,252.2 164.5,251.0 165.6,249.8 166.8,248.6 167.9,247.4 169.1,246.1 170.3,244.9 171.4,243.7 172.6,242.4 173.7,241.2 174.9,240.0 176.1,238.7 177.2,237.5 178.4,236.2 179.5,235.0 180.7,233.7 181.9,232.4 183.0,231.2 184.2,229.9 185.3,228.6 186.5,227.3 187.6,226.1 188.8,224.8 190.0,223.5 191.1,222.2 192.3,220.9 193.4,219.6 194.6,218.3 195.8,216.9 196.9,215.6 198.1,214.3 199.2,213.0 200.4,211.6 201.5,210.3 202.7,208.9 203.9,207.6 205.0,206.2 206.2,204.8 207.3,203.4 208.5,202.1 209.7,200.7 210.8,199.3 212.0,197.9 213.1,196.4 214.3,195.0 215.5,193.6 216.6,192.2 217.8,190.7 218.9,189.3 220.1,187.8 221.2,186.3 222.4,184.8 223.6,183.3 224.7,181.8 225.9,180.3 227.0,178.8 228.2,177.2 229.4,175.7 230.5,174.1 231.7,172.6 232.8,171.0 234.0,169.4 235.1,167.8 236.3,166.1 237.5,164.5 238.6,162.9 239.8,161.2 240.9,159.5 242.1,157.8 243.3,156.1 244.4,154.4 245.6,152.6 246.7,150.9 247.9,149.1 249.1,147.3 250.2,145.5 251.4,143.6 252.5,141.8 253.7,139.9 254.8,138.0 256.0,136.1 257.2,134.2 258.3,132.2 259.5,130.3 260.6,128.3 261.8,126.3 263.0,124.2 264.1,122.2 265.3,120.1 266.4,118.0 267.6,115.9 268.7,113.7 269.9,111.5 271.1,109.3 272.2,107.1 273.4,104.9 274.5,102.7 275.7,100.4 276.9,98.1 278.0,95.8 279.2,93.5 280.3,91.2 281.5,88.9 282.7,86.6 283.8,84.3 285.0,82.0 286.1,79.7 287.3,77.5 288.4,75.2 289.6,73.0 290.8,70.9 291.9,68.8 293.1,66.8 294.2,64.9 295.4,63.1 296.6,61.4 297.7,59.9 298.9,58.4 300.0,57.2 301.2,56.1 302.3,55.1 303.5,54.4 304.7,53.9 305.8,53.6 307.0,53.5 308.1,53.6 309.3,53.9 310.5,54.5 311.6,55.2 312.8,56.2 313.9,57.3 315.1,58.6 316.3,60.0 317.4,61.6 318.6,63.3 319.7,65.1 320.9,67.1 322.0,69.1 323.2,71.2 324.4,73.3 325.5,75.5 326.7,77.8 327.8,80.0 329.0,82.3 330.2,84.7 331.3,87.0 332.5,89.3 333.6,91.6 334.8,94.0 335.9,96.3 337.1,98.6 338.3,100.9 339.4,103.2 340.6,105.4 341.7,107.7 342.9,109.9 344.1,112.1 345.2,114.3 346.4,116.4 347.5,118.6 348.7,120.7 349.9,122.8 351.0,124.9 352.2,126.9 353.3,129.0 354.5,131.0 355.6,133.0 356.8,135.0 358.0,136.9 359.1,138.8 360.3,140.8 361.4,142.6 362.6,144.5 363.8,146.4 364.9,148.2 366.1,150.0 367.2,151.8 368.4,153.6 369.5,155.4 370.7,157.1 371.9,158.9 373.0,160.6 374.2,162.3 375.3,164.0 376.5,165.7 377.7,167.3 378.8,169.0 380.0,170.6 381.1,172.2 382.3,173.9 383.4,175.5 384.6,177.1 385.8,178.6 386.9,180.2 388.1,181.8 389.2,183.3 390.4,184.8 391.6,186.4 392.7,187.9 393.9,189.4 395.0,190.9 396.2,192.4 397.4,193.9 398.5,195.4 399.7,196.8 400.8,198.3 402.0,199.7 403.1,201.2 404.3,202.6 405.5,204.1 406.6,205.5 407.8,206.9 408.9,208.3 410.1,209.7 411.3,211.1 412.4,212.5 413.6,213.9 414.7,215.3 415.9,216.7 417.0,218.1 418.2,219.4 419.4,220.8 420.5,222.2 421.7,223.5 422.8,224.9 424.0,226.2 425.2,227.6 426.3,228.9 427.5,230.3 428.6,231.6 429.8,232.9 431.0,234.3 432.1,235.6 433.3,236.9 434.4,238.2 435.6,239.5 436.7,240.8 437.9,242.2 439.1,243.5 440.2,244.8 441.4,246.1 442.5,247.4 443.7,248.7 444.9,250.0 446.0,251.3 447.2,252.6 448.3,253.8 449.5,255.1 450.6,256.4 451.8,257.7 453.0,259.0 454.1,260.3 455.3,261.6 456.4,262.8 457.6,264.1 458.8,265.4 459.9,266.7 461.1,267.9 462.2,269.2 463.4,270.5 464.6,271.7 465.7,273.0 466.9,274.3 468.0,275.5 469.2,276.8 470.3,278.1 471.5,279.3 472.7,280.6 473.8,281.9 475.0,283.1 476.1,284.4 477.3,285.6 478.5,286.9 479.6,288.2 480.8,289.4 481.9,290.7 483.1,291.9 484.2,293.2 485.4,294.4 486.6,295.7 487.7,297.0 488.9,298.2 490.0,299.5 491.2,300.7 492.4,302.0 493.5,303.2 494.7,304.5 495.8,305.7 497.0,307.0 498.2,308.2 499.3,309.5 500.5,310.7 501.6,312.0 502.8,313.2 503.9,314.5 505.1,315.7 506.3,317.0 507.4,318.3 508.6,319.5 509.7,320.8 510.9,322.0 512.1,323.3 513.2,324.5 514.4,325.8 515.5,327.0 516.7,328.3 517.8,329.5 519.0,330.8 520.2,332.0 521.3,333.3 522.5,334.5 523.6,335.8 524.8,337.0 526.0,338.3 527.1,339.5 528.3,340.8 529.4,342.0 530.6,343.3 531.8,344.5 532.9,345.8 534.1,347.0 535.2,348.3 536.4,349.5 537.5,350.8 538.7,352.0 539.9,353.3 541.0,354.5 542.2,355.8 543.3,357.0 544.5,358.3 545.7,359.5" stroke="#00ff00" stroke-width="2.8" fill="none" stroke-linecap="round" stroke-dasharray="0 11.0" stroke-dashoffset="0.77"/>
<path d="M60.2,359.4 61.4,358.3 62.5,357.2 63.7,356.1 64.8,355.0 66.0,353.8 67.2,352.7 68.3,351.6 69.5,350.5 70.6,349.4 71.8,348.2 72.9,347.1 74.1,346.0 75.3,344.9 76.4,343.8 77.6,342.6 78.7,341.5 79.9,340.4 81.1,339.3 82.2,338.1 83.4,337.0 84.5,335.9 85.7,334.8 86.8,333.6 88.0,332.5 89.2,331.4 90.3,330.3 91.5,329.1 92.6,328.0 93.8,326.9 95.0,325.7 96.1,324.6 97.3,323.5 98.4,322.4 99.6,321.2 100.8,320.1 101.9,319.0 103.1,317.8 104.2,316.7 105.4,315.6 106.5,314.4 107.7,313.3 108.9,312.1 110.0,311.0 111.2,309.9 112.3,308.7 113.5,307.6 114.7,306.5 115.8,305.3 117.0,304.2 118.1,303.0 119.3,301.9 120.4,300.7 121.6,299.6 122.8,298.4 123.9,297.3 125.1,296.1 126.2,295.0 127.4,293.8 128.6,292.7 129.7,291.5 130.9,290.4 132.0,289.2 133.2,288.1 134.4,286.9 135.5,285.8 136.7,284.6 137.8,283.4 139.0,282.3 140.1,281.1 141.3,279.9 142.5,278.8 143.6,277.6 144.8,276.4 145.9,275.3 147.1,274.1 148.3,272.9 149.4,271.7 150.6,270.5 151.7,269.4 152.9,268.2 154.0,267.0 155.2,265.8 156.4,264.6 157.5,263.4 158.7,262.2 159.8,261.0 161.0,259.8 162.2,258.6 163.3,257.4 164.5,256.2 165.6,255.0 166.8,253.8 167.9,252.6 169.1,251.4 170.3,250.2 171.4,249.0 172.6,247.7 173.7,246.5 174.9,245.3 176.1,244.1 177.2,242.8 178.4,241.6 179.5,240.3 180.7,239.1 181.9,237.8 183.0,236.6 184.2,235.3 185.3,234.1 186.5,232.8 187.6,231.6 188.8,230.3 190.0,229.0 191.1,227.7 192.3,226.4 193.4,225.2 194.6,223.9 195.8,222.6 196.9,221.3 198.1,220.0 199.2,218.6 200.4,217.3 201.5,216.0 202.7,214.7 203.9,213.3 205.0,212.0 206.2,210.7 207.3,209.3 208.5,207.9 209.7,206.6 210.8,205.2 212.0,203.8 213.1,202.4 214.3,201.1 215.5,199.7 216.6,198.2 217.8,196.8 218.9,195.4 220.1,194.0 221.2,192.5 222.4,191.1 223.6,189.6 224.7,188.2 225.9,186.7 227.0,185.2 228.2,183.7 229.4,182.2 230.5,180.7 231.7,179.2 232.8,177.6 234.0,176.1 235.1,174.5 236.3,172.9 237.5,171.3 238.6,169.7 239.8,168.1 240.9,166.5 242.1,164.9 243.3,163.2 244.4,161.5 245.6,159.8 246.7,158.1 247.9,156.4 249.1,154.7 250.2,153.0 251.4,151.2 252.5,149.4 253.7,147.6 254.8,145.8 256.0,143.9 257.2,142.1 258.3,140.2 259.5,138.3 260.6,136.4 261.8,134.4 263.0,132.5 264.1,130.5 265.3,128.5 266.4,126.4 267.6,124.4 268.7,122.3 269.9,120.2 271.1,118.1 272.2,115.9 273.4,113.8 274.5,111.6 275.7,109.3 276.9,107.1 278.0,104.8 279.2,102.5 280.3,100.2 281.5,97.9 282.7,95.6 283.8,93.2 285.0,90.8 286.1,88.4 287.3,86.1 288.4,83.7 289.6,81.3 290.8,78.9 291.9,76.6 293.1,74.2 294.2,71.9 295.4,69.7 296.6,67.5 297.7,65.3 298.9,63.3 300.0,61.3 301.2,59.5 302.3,57.7 303.5,56.1 304.7,54.7 305.8,53.4 307.0,52.4 308.1,51.5 309.3,50.8 310.5,50.4 311.6,50.1 312.8,50.2 313.9,50.4 315.1,50.9 316.3,51.5 317.4,52.4 318.6,53.5 319.7,54.8 320.9,56.3 322.0,57.9 323.2,59.6 324.4,61.5 325.5,63.5 326.7,65.5 327.8,67.7 329.0,69.9 330.2,72.2 331.3,74.5 332.5,76.8 333.6,79.2 334.8,81.6 335.9,84.0 337.1,86.4 338.3,88.8 339.4,91.2 340.6,93.6 341.7,95.9 342.9,98.3 344.1,100.6 345.2,102.9 346.4,105.2 347.5,107.5 348.7,109.8 349.9,112.0 351.0,114.2 352.2,116.4 353.3,118.6 354.5,120.7 355.6,122.8 356.8,124.9 358.0,127.0 359.1,129.0 360.3,131.0 361.4,133.0 362.6,135.0 363.8,137.0 364.9,138.9 366.1,140.8 367.2,142.7 368.4,144.6 369.5,146.4 370.7,148.3 371.9,150.1 373.0,151.9 374.2,153.7 375.3,155.4 376.5,157.2 377.7,158.9 378.8,160.6 380.0,162.3 381.1,164.0 382.3,165.7 383.4,167.3 384.6,169.0 385.8,170.6 386.9,172.2 388.1,173.8 389.2,175.4 390.4,177.0 391.6,178.6 392.7,180.1 393.9,181.7 395.0,183.2 396.2,184.7 397.4,186.2 398.5,187.7 399.7,189.2 400.8,190.7 402.0,192.2 403.1,193.7 404.3,195.1 405.5,196.6 406.6,198.0 407.8,199.4 408.9,200.9 410.1,202.3 411.3,203.7 412.4,205.1 413.6,206.5 414.7,207.9 415.9,209.3 417.0,210.7 418.2,212.0 419.4,213.4 420.5,214.8 421.7,216.1 422.8,217.5 424.0,218.8 425.2,220.2 426.3,221.5 427.5,222.8 428.6,224.1 429.8,225.5 431.0,226.8 432.1,228.1 433.3,229.4 434.4,230.7 435.6,232.0 436.7,233.3 437.9,234.6 439.1,235.9 440.2,237.1 441.4,238.4 442.5,239.7 443.7,241.0 444.9,242.2 446.0,243.5 447.2,244.8 448.3,246.0 449.5,247.3 450.6,248.5 451.8,249.8 453.0,251.0 454.1,252.3 455.3,253.5 456.4,254.8 457.6,256.0 458.8,257.2 459.9,258.5 461.1,259.7 462.2,260.9 463.4,262.2 464.6,263.4 465.7,264.6 466.9,265.8 468.0,267.0 469.2,268.3 470.3,269.5 471.5,270.7 472.7,271.9 473.8,273.1 475.0,274.3 476.1,275.5 477.3,276.7 478.5,277.9 479.6,279.1 480.8,280.3 481.9,281.5 483.1,282.7 484.2,283.9 485.4,285.1 486.6,286.3 487.7,287.5 488.9,288.7 490.0,289.9 491.2,291.1 492.4,292.3 493.5,293.4 494.7,294.6 495.8,295.8 497.0,297.0 498.2,298.2 499.3,299.3 500.5,300.5 501.6,301.7 502.8,302.9 503.9,304.1 505.1,305.2 506.3,306.4 507.4,307.6 508.6,308.8 509.7,309.9 510.9,311.1 512.1,312.3 513.2,313.4 514.4,314.6 515.5,315.8 516.7,316.9 517.8,318.1 519.0,319.3 520.2,320.4 521.3,321.6 522.5,322.8 523.6,323.9 524.8,325.1 526.0,326.3 527.1,327.4 528.3,328.6 529.4,329.7 530.6,330.9 531.8,332.1 532.9,333.2 534.1,334.4 535.2,335.5 536.4,336.7 537.5,337.9 538.7,339.0 539.9,340.2 541.0,341.3 542.2,342.5 543.3,343.6 544.5,344.8 545.7,345.9" stroke="#0000ff" stroke-width="2.6" fill="none" stroke-linecap="round" stroke-dasharray="15 11.55 0 11.85" stroke-dashoffset="0"/>
<path d="M60.2,360.2 61.4,359.0 62.5,357.9 63.7,356.8 64.8,355.7 66.0,354.6 67.2,353.5 68.3,352.3 69.5,351.2 70.6,350.1 71.8,349.0 72.9,347.9 74.1,346.7 75.3,345.6 76.4,344.5 77.6,343.4 78.7,342.3 79.9,341.1 81.1,340.0 82.2,338.9 83.4,337.8 84.5,336.6 85.7,335.5 86.8,334.4 88.0,333.3 89.2,332.1 90.3,331.0 91.5,329.9 92.6,328.8 93.8,327.6 95.0,326.5 96.1,325.4 97.3,324.2 98.4,323.1 99.6,322.0 100.8,320.9 101.9,319.7 103.1,318.6 104.2,317.5 105.4,316.3 106.5,315.2 107.7,314.1 108.9,312.9 110.0,311.8 111.2,310.6 112.3,309.5 113.5,308.4 114.7,307.2 115.8,306.1 117.0,304.9 118.1,303.8 119.3,302.7 120.4,301.5 121.6,300.4 122.8,299.2 123.9,298.1 125.1,296.9 126.2,295.8 127.4,294.6 128.6,293.5 129.7,292.3 130.9,291.2 132.0,290.0 133.2,288.9 134.4,287.7 135.5,286.6 136.7,285.4 137.8,284.2 139.0,283.1 140.1,281.9 141.3,280.7 142.5,279.6 143.6,278.4 144.8,277.2 145.9,276.1 147.1,274.9 148.3,273.7 149.4,272.6 150.6,271.4 151.7,270.2 152.9,269.0 154.0,267.8 155.2,266.7 156.4,265.5 157.5,264.3 158.7,263.1 159.8,261.9 161.0,260.7 162.2,259.5 163.3,258.3 164.5,257.1 165.6,255.9 166.8,254.7 167.9,253.5 169.1,252.3 170.3,251.1 171.4,249.9 172.6,248.6 173.7,247.4 174.9,246.2 176.1,245.0 177.2,243.7 178.4,242.5 179.5,241.3 180.7,240.0 181.9,238.8 183.0,237.5 184.2,236.3 185.3,235.0 186.5,233.8 187.6,232.5 188.8,231.3 190.0,230.0 191.1,228.7 192.3,227.4 193.4,226.2 194.6,224.9 195.8,223.6 196.9,222.3 198.1,221.0 199.2,219.7 200.4,218.4 201.5,217.1 202.7,215.8 203.9,214.4 205.0,213.1 206.2,211.8 207.3,210.4 208.5,209.1 209.7,207.7 210.8,206.4 212.0,205.0 213.1,203.6 214.3,202.2 215.5,200.9 216.6,199.5 217.8,198.1 218.9,196.7 220.1,195.2 221.2,193.8 222.4,192.4 223.6,190.9 224.7,189.5 225.9,188.0 227.0,186.6 228.2,185.1 229.4,183.6 230.5,182.1 231.7,180.6 232.8,179.1 234.0,177.6 235.1,176.0 236.3,174.5 237.5,172.9 238.6,171.3 239.8,169.8 240.9,168.2 242.1,166.6 243.3,164.9 244.4,163.3 245.6,161.7 246.7,160.0 247.9,158.3 249.1,156.6 250.2,154.9 251.4,153.2 252.5,151.4 253.7,149.7 254.8,147.9 256.0,146.1 257.2,144.3 258.3,142.5 259.5,140.7 260.6,138.8 261.8,136.9 263.0,135.0 264.1,133.1 265.3,131.2 266.4,129.2 267.6,127.2 268.7,125.2 269.9,123.2 271.1,121.2 272.2,119.1 273.4,117.1 274.5,115.0 275.7,112.9 276.9,110.7 278.0,108.6 279.2,106.4 280.3,104.2 281.5,102.1 282.7,99.9 283.8,97.6 285.0,95.4 286.1,93.2 287.3,91.0 288.4,88.8 289.6,86.6 290.8,84.4 291.9,82.2 293.1,80.1 294.2,78.0 295.4,75.9 296.6,73.9 297.7,71.9 298.9,70.0 300.0,68.2 301.2,66.5 302.3,64.9 303.5,63.5 304.7,62.1 305.8,60.9 307.0,59.9 308.1,59.0 309.3,58.3 310.5,57.8 311.6,57.5 312.8,57.4 313.9,57.5 315.1,57.7 316.3,58.2 317.4,58.8 318.6,59.7 319.7,60.7 320.9,61.8 322.0,63.1 323.2,64.6 324.4,66.1 325.5,67.8 326.7,69.6 327.8,71.5 329.0,73.4 330.2,75.4 331.3,77.5 332.5,79.6 333.6,81.7 334.8,83.9 335.9,86.1 337.1,88.3 338.3,90.5 339.4,92.7 340.6,94.9 341.7,97.2 342.9,99.4 344.1,101.6 345.2,103.8 346.4,106.0 347.5,108.1 348.7,110.3 349.9,112.4 351.0,114.5 352.2,116.6 353.3,118.7 354.5,120.8 355.6,122.8 356.8,124.9 358.0,126.9 359.1,128.8 360.3,130.8 361.4,132.8 362.6,134.7 363.8,136.6 364.9,138.5 366.1,140.3 367.2,142.2 368.4,144.0 369.5,145.8 370.7,147.6 371.9,149.4 373.0,151.2 374.2,152.9 375.3,154.7 376.5,156.4 377.7,158.1 378.8,159.8 380.0,161.5 381.1,163.1 382.3,164.8 383.4,166.4 384.6,168.0 385.8,169.6 386.9,171.2 388.1,172.8 389.2,174.4 390.4,175.9 391.6,177.5 392.7,179.0 393.9,180.5 395.0,182.0 396.2,183.5 397.4,185.0 398.5,186.5 399.7,188.0 400.8,189.5 402.0,190.9 403.1,192.4 404.3,193.8 405.5,195.2 406.6,196.7 407.8,198.1 408.9,199.5 410.1,200.9 411.3,202.3 412.4,203.7 413.6,205.1 414.7,206.4 415.9,207.8 417.0,209.2 418.2,210.5 419.4,211.9 420.5,213.2 421.7,214.5 422.8,215.9 424.0,217.2 425.2,218.5 426.3,219.8 427.5,221.2 428.6,222.5 429.8,223.8 431.0,225.1 432.1,226.4 433.3,227.6 434.4,228.9 435.6,230.2 436.7,231.5 437.9,232.8 439.1,234.0 440.2,235.3 441.4,236.6 442.5,237.8 443.7,239.1 444.9,240.3 446.0,241.6 447.2,242.8 448.3,244.1 449.5,245.3 450.6,246.5 451.8,247.8 453.0,249.0 454.1,250.2 455.3,251.4 456.4,252.7 457.6,253.9 458.8,255.1 459.9,256.3 461.1,257.5 462.2,258.7 463.4,260.0 464.6,261.2 465.7,262.4 466.9,263.6 468.0,264.8 469.2,266.0 470.3,267.2 471.5,268.3 472.7,269.5 473.8,270.7 475.0,271.9 476.1,273.1 477.3,274.3 478.5,275.5 479.6,276.7 480.8,277.8 481.9,279.0 483.1,280.2 484.2,281.4 485.4,282.5 486.6,283.7 487.7,284.9 488.9,286.1 490.0,287.2 491.2,288.4 492.4,289.6 493.5,290.7 494.7,291.9 495.8,293.1 497.0,294.2 498.2,295.4 499.3,296.5 500.5,297.7 501.6,298.9 502.8,300.0 503.9,301.2 505.1,302.3 506.3,303.5 507.4,304.6 508.6,305.8 509.7,306.9 510.9,308.1 512.1,309.2 513.2,310.4 514.4,311.5 515.5,312.7 516.7,313.8 517.8,315.0 519.0,316.1 520.2,317.3 521.3,318.4 522.5,319.5 523.6,320.7 524.8,321.8 526.0,323.0 527.1,324.1 528.3,325.3 529.4,326.4 530.6,327.5 531.8,328.7 532.9,329.8 534.1,330.9 535.2,332.1 536.4,333.2 537.5,334.4 538.7,335.5 539.9,336.6 541.0,337.8 542.2,338.9 543.3,340.0 544.5,341.2 545.7,342.3" stroke="#ff0000" stroke-width="2.6" fill="none" stroke-linejoin="round"/>
<path d="M60.2,354.1 61.4,353.0 62.5,351.9 63.7,350.8 64.8,349.6 66.0,348.5 67.2,347.4 68.3,346.3 69.5,345.2 70.6,344.0 71.8,342.9 72.9,341.8 74.1,340.7 75.3,339.5 76.4,338.4 77.6,337.3 78.7,336.2 79.9,335.0 81.1,333.9 82.2,332.8 83.4,331.7 84.5,330.5 85.7,329.4 86.8,328.3 88.0,327.2 89.2,326.0 90.3,324.9 91.5,323.8 92.6,322.6 93.8,321.5 95.0,320.4 96.1,319.2 97.3,318.1 98.4,317.0 99.6,315.8 100.8,314.7 101.9,313.6 103.1,312.4 104.2,311.3 105.4,310.2 106.5,309.0 107.7,307.9 108.9,306.7 110.0,305.6 111.2,304.5 112.3,303.3 113.5,302.2 114.7,301.0 115.8,299.9 117.0,298.7 118.1,297.6 119.3,296.4 120.4,295.3 121.6,294.1 122.8,293.0 123.9,291.8 125.1,290.7 126.2,289.5 127.4,288.4 128.6,287.2 129.7,286.0 130.9,284.9 132.0,283.7 133.2,282.5 134.4,281.4 135.5,280.2 136.7,279.0 137.8,277.9 139.0,276.7 140.1,275.5 141.3,274.4 142.5,273.2 143.6,272.0 144.8,270.8 145.9,269.6 147.1,268.5 148.3,267.3 149.4,266.1 150.6,264.9 151.7,263.7 152.9,262.5 154.0,261.3 155.2,260.1 156.4,258.9 157.5,257.7 158.7,256.5 159.8,255.3 161.0,254.1 162.2,252.9 163.3,251.7 164.5,250.5 165.6,249.2 166.8,248.0 167.9,246.8 169.1,245.6 170.3,244.3 171.4,243.1 172.6,241.9 173.7,240.6 174.9,239.4 176.1,238.1 177.2,236.9 178.4,235.6 179.5,234.3 180.7,233.1 181.9,231.8 183.0,230.5 184.2,229.3 185.3,228.0 186.5,226.7 187.6,225.4 188.8,224.1 190.0,222.8 191.1,221.5 192.3,220.2 193.4,218.9 194.6,217.6 195.8,216.3 196.9,214.9 198.1,213.6 199.2,212.2 200.4,210.9 201.5,209.5 202.7,208.2 203.9,206.8 205.0,205.4 206.2,204.0 207.3,202.7 208.5,201.3 209.7,199.9 210.8,198.4 212.0,197.0 213.1,195.6 214.3,194.2 215.5,192.7 216.6,191.2 217.8,189.8 218.9,188.3 220.1,186.8 221.2,185.3 222.4,183.8 223.6,182.3 224.7,180.8 225.9,179.2 227.0,177.7 228.2,176.1 229.4,174.5 230.5,172.9 231.7,171.3 232.8,169.7 234.0,168.1 235.1,166.4 236.3,164.8 237.5,163.1 238.6,161.4 239.8,159.7 240.9,158.0 242.1,156.2 243.3,154.4 244.4,152.6 245.6,150.8 246.7,149.0 247.9,147.2 249.1,145.3 250.2,143.4 251.4,141.5 252.5,139.5 253.7,137.6 254.8,135.6 256.0,133.6 257.2,131.5 258.3,129.4 259.5,127.3 260.6,125.2 261.8,123.0 263.0,120.8 264.1,118.6 265.3,116.3 266.4,114.0 267.6,111.7 268.7,109.3 269.9,106.9 271.1,104.4 272.2,101.9 273.4,99.3 274.5,96.8 275.7,94.1 276.9,91.4 278.0,88.7 279.2,86.0 280.3,83.1 281.5,80.3 282.7,77.4 283.8,74.5 285.0,71.5 286.1,68.5 287.3,65.4 288.4,62.4 289.6,59.3 290.8,56.2 291.9,53.1 293.1,50.0 294.2,47.0 295.4,44.0 296.6,41.1 297.7,38.3 298.9,35.7 300.0,33.2 301.2,30.9 302.3,28.8 303.5,27.0 304.7,25.5 305.8,24.4 307.0,23.6 308.1,23.2 309.3,23.2 310.5,23.6 311.6,24.4 312.8,25.6 313.9,27.1 315.1,28.9 316.3,31.0 317.4,33.3 318.6,35.9 319.7,38.6 320.9,41.4 322.0,44.4 323.2,47.4 324.4,50.5 325.5,53.6 326.7,56.7 327.8,59.8 329.0,63.0 330.2,66.1 331.3,69.2 332.5,72.2 333.6,75.2 334.8,78.2 335.9,81.2 337.1,84.1 338.3,86.9 339.4,89.8 340.6,92.5 341.7,95.3 342.9,98.0 344.1,100.6 345.2,103.2 346.4,105.8 347.5,108.3 348.7,110.8 349.9,113.2 351.0,115.6 352.2,118.0 353.3,120.3 354.5,122.6 355.6,124.9 356.8,127.1 358.0,129.3 359.1,131.5 360.3,133.6 361.4,135.7 362.6,137.8 363.8,139.9 364.9,141.9 366.1,143.9 367.2,145.9 368.4,147.8 369.5,149.8 370.7,151.7 371.9,153.6 373.0,155.5 374.2,157.3 375.3,159.2 376.5,161.0 377.7,162.8 378.8,164.6 380.0,166.4 381.1,168.1 382.3,169.9 383.4,171.6 384.6,173.3 385.8,175.0 386.9,176.7 388.1,178.4 389.2,180.1 390.4,181.7 391.6,183.4 392.7,185.0 393.9,186.6 395.0,188.2 396.2,189.8 397.4,191.4 398.5,193.0 399.7,194.6 400.8,196.2 402.0,197.7 403.1,199.3 404.3,200.8 405.5,202.3 406.6,203.9 407.8,205.4 408.9,206.9 410.1,208.4 411.3,209.9 412.4,211.4 413.6,212.9 414.7,214.4 415.9,215.9 417.0,217.3 418.2,218.8 419.4,220.3 420.5,221.7 421.7,223.2 422.8,224.6 424.0,226.1 425.2,227.5 426.3,229.0 427.5,230.4 428.6,231.8 429.8,233.3 431.0,234.7 432.1,236.1 433.3,237.5 434.4,238.9 435.6,240.4 436.7,241.8 437.9,243.2 439.1,244.6 440.2,246.0 441.4,247.4 442.5,248.8 443.7,250.2 444.9,251.6 446.0,253.0 447.2,254.4 448.3,255.7 449.5,257.1 450.6,258.5 451.8,259.9 453.0,261.3 454.1,262.7 455.3,264.0 456.4,265.4 457.6,266.8 458.8,268.2 459.9,269.5 461.1,270.9 462.2,272.3 463.4,273.7 464.6,275.0 465.7,276.4 466.9,277.8 468.0,279.1 469.2,280.5 470.3,281.9 471.5,283.2 472.7,284.6 473.8,286.0 475.0,287.3 476.1,288.7 477.3,290.0 478.5,291.4 479.6,292.8 480.8,294.1 481.9,295.5 483.1,296.8 484.2,298.2 485.4,299.6 486.6,300.9 487.7,302.3 488.9,303.6 490.0,305.0 491.2,306.3 492.4,307.7 493.5,309.1 494.7,310.4 495.8,311.8 497.0,313.1 498.2,314.5 499.3,315.8 500.5,317.2 501.6,318.5 502.8,319.9 503.9,321.3 505.1,322.6 506.3,324.0 507.4,325.3 508.6,326.7 509.7,328.0 510.9,329.4 512.1,330.7 513.2,332.1 514.4,333.4 515.5,334.8 516.7,336.1 517.8,337.5 519.0,338.9 520.2,340.2 521.3,341.6 522.5,342.9 523.6,344.3 524.8,345.6 526.0,347.0 527.1,348.3 528.3,349.7 529.4,351.0 530.6,352.4 531.8,353.7 532.9,355.1 534.1,356.4 535.2,357.8 536.4,359.2 537.5,360.5 538.7,361.9 539.9,363.2 541.0,364.6 542.2,365.9 543.3,367.3 544.5,368.6 545.7,370.0" stroke="#0000ff" stroke-width="2.8" fill="none" stroke-linecap="round" stroke-dasharray="0 11.0" stroke-dashoffset="4.88"/>
<path d="M60.2,357.2 61.4,356.1 62.5,354.9 63.7,353.8 64.8,352.7 66.0,351.6 67.2,350.5 68.3,349.3 69.5,348.2 70.6,347.1 71.8,346.0 72.9,344.9 74.1,343.7 75.3,342.6 76.4,341.5 77.6,340.4 78.7,339.2 79.9,338.1 81.1,337.0 82.2,335.9 83.4,334.7 84.5,333.6 85.7,332.5 86.8,331.4 88.0,330.2 89.2,329.1 90.3,328.0 91.5,326.8 92.6,325.7 93.8,324.6 95.0,323.5 96.1,322.3 97.3,321.2 98.4,320.1 99.6,318.9 100.8,317.8 101.9,316.6 103.1,315.5 104.2,314.4 105.4,313.2 106.5,312.1 107.7,311.0 108.9,309.8 110.0,308.7 111.2,307.5 112.3,306.4 113.5,305.2 114.7,304.1 115.8,303.0 117.0,301.8 118.1,300.7 119.3,299.5 120.4,298.4 121.6,297.2 122.8,296.1 123.9,294.9 125.1,293.8 126.2,292.6 127.4,291.4 128.6,290.3 129.7,289.1 130.9,288.0 132.0,286.8 133.2,285.6 134.4,284.5 135.5,283.3 136.7,282.1 137.8,281.0 139.0,279.8 140.1,278.6 141.3,277.5 142.5,276.3 143.6,275.1 144.8,273.9 145.9,272.8 147.1,271.6 148.3,270.4 149.4,269.2 150.6,268.0 151.7,266.8 152.9,265.6 154.0,264.4 155.2,263.2 156.4,262.0 157.5,260.8 158.7,259.6 159.8,258.4 161.0,257.2 162.2,256.0 163.3,254.8 164.5,253.6 165.6,252.4 166.8,251.1 167.9,249.9 169.1,248.7 170.3,247.5 171.4,246.2 172.6,245.0 173.7,243.8 174.9,242.5 176.1,241.3 177.2,240.0 178.4,238.8 179.5,237.5 180.7,236.2 181.9,235.0 183.0,233.7 184.2,232.4 185.3,231.2 186.5,229.9 187.6,228.6 188.8,227.3 190.0,226.0 191.1,224.7 192.3,223.4 193.4,222.1 194.6,220.8 195.8,219.4 196.9,218.1 198.1,216.8 199.2,215.4 200.4,214.1 201.5,212.7 202.7,211.4 203.9,210.0 205.0,208.6 206.2,207.3 207.3,205.9 208.5,204.5 209.7,203.1 210.8,201.7 212.0,200.3 213.1,198.8 214.3,197.4 215.5,196.0 216.6,194.5 217.8,193.1 218.9,191.6 220.1,190.1 221.2,188.6 222.4,187.1 223.6,185.6 224.7,184.1 225.9,182.5 227.0,181.0 228.2,179.4 229.4,177.9 230.5,176.3 231.7,174.7 232.8,173.1 234.0,171.5 235.1,169.8 236.3,168.2 237.5,166.5 238.6,164.8 239.8,163.1 240.9,161.4 242.1,159.6 243.3,157.9 244.4,156.1 245.6,154.3 246.7,152.5 247.9,150.7 249.1,148.8 250.2,146.9 251.4,145.0 252.5,143.1 253.7,141.1 254.8,139.1 256.0,137.1 257.2,135.1 258.3,133.0 259.5,130.9 260.6,128.8 261.8,126.7 263.0,124.5 264.1,122.3 265.3,120.0 266.4,117.7 267.6,115.4 268.7,113.0 269.9,110.6 271.1,108.2 272.2,105.7 273.4,103.2 274.5,100.6 275.7,98.0 276.9,95.3 278.0,92.6 279.2,89.8 280.3,87.0 281.5,84.2 282.7,81.3 283.8,78.3 285.0,75.4 286.1,72.3 287.3,69.3 288.4,66.2 289.6,63.0 290.8,59.9 291.9,56.7 293.1,53.6 294.2,50.4 295.4,47.3 296.6,44.2 297.7,41.2 298.9,38.4 300.0,35.6 301.2,33.0 302.3,30.6 303.5,28.5 304.7,26.6 305.8,25.1 307.0,23.9 308.1,23.1 309.3,22.7 310.5,22.7 311.6,23.1 312.8,23.9 313.9,25.1 315.1,26.7 316.3,28.6 317.4,30.7 318.6,33.1 319.7,35.7 320.9,38.5 322.0,41.4 323.2,44.4 324.4,47.5 325.5,50.6 326.7,53.8 327.8,57.0 329.0,60.1 330.2,63.3 331.3,66.5 332.5,69.6 333.6,72.7 334.8,75.7 335.9,78.7 337.1,81.7 338.3,84.6 339.4,87.4 340.6,90.3 341.7,93.0 342.9,95.8 344.1,98.4 345.2,101.1 346.4,103.7 347.5,106.2 348.7,108.7 349.9,111.2 351.0,113.6 352.2,116.0 353.3,118.3 354.5,120.7 355.6,122.9 356.8,125.2 358.0,127.4 359.1,129.5 360.3,131.7 361.4,133.8 362.6,135.9 363.8,137.9 364.9,140.0 366.1,142.0 367.2,143.9 368.4,145.9 369.5,147.8 370.7,149.7 371.9,151.6 373.0,153.5 374.2,155.3 375.3,157.1 376.5,158.9 377.7,160.7 378.8,162.4 380.0,164.2 381.1,165.9 382.3,167.6 383.4,169.3 384.6,171.0 385.8,172.7 386.9,174.3 388.1,175.9 389.2,177.6 390.4,179.2 391.6,180.8 392.7,182.3 393.9,183.9 395.0,185.5 396.2,187.0 397.4,188.6 398.5,190.1 399.7,191.6 400.8,193.1 402.0,194.6 403.1,196.1 404.3,197.6 405.5,199.0 406.6,200.5 407.8,201.9 408.9,203.4 410.1,204.8 411.3,206.3 412.4,207.7 413.6,209.1 414.7,210.5 415.9,211.9 417.0,213.3 418.2,214.7 419.4,216.1 420.5,217.4 421.7,218.8 422.8,220.2 424.0,221.5 425.2,222.9 426.3,224.2 427.5,225.5 428.6,226.9 429.8,228.2 431.0,229.5 432.1,230.9 433.3,232.2 434.4,233.5 435.6,234.8 436.7,236.1 437.9,237.4 439.1,238.7 440.2,240.0 441.4,241.3 442.5,242.6 443.7,243.9 444.9,245.1 446.0,246.4 447.2,247.7 448.3,248.9 449.5,250.2 450.6,251.5 451.8,252.7 453.0,254.0 454.1,255.2 455.3,256.5 456.4,257.7 457.6,259.0 458.8,260.2 459.9,261.5 461.1,262.7 462.2,263.9 463.4,265.2 464.6,266.4 465.7,267.6 466.9,268.9 468.0,270.1 469.2,271.3 470.3,272.5 471.5,273.8 472.7,275.0 473.8,276.2 475.0,277.4 476.1,278.6 477.3,279.8 478.5,281.0 479.6,282.3 480.8,283.5 481.9,284.7 483.1,285.9 484.2,287.1 485.4,288.3 486.6,289.5 487.7,290.7 488.9,291.9 490.0,293.1 491.2,294.3 492.4,295.5 493.5,296.6 494.7,297.8 495.8,299.0 497.0,300.2 498.2,301.4 499.3,302.6 500.5,303.8 501.6,305.0 502.8,306.1 503.9,307.3 505.1,308.5 506.3,309.7 507.4,310.9 508.6,312.0 509.7,313.2 510.9,314.4 512.1,315.6 513.2,316.8 514.4,317.9 515.5,319.1 516.7,320.3 517.8,321.5 519.0,322.6 520.2,323.8 521.3,325.0 522.5,326.1 523.6,327.3 524.8,328.5 526.0,329.6 527.1,330.8 528.3,332.0 529.4,333.1 530.6,334.3 531.8,335.5 532.9,336.6 534.1,337.8 535.2,339.0 536.4,340.1 537.5,341.3 538.7,342.5 539.9,343.6 541.0,344.8 542.2,346.0 543.3,347.1 544.5,348.3 545.7,349.4" stroke="#ff00ff" stroke-width="2.6" fill="none" stroke-linecap="round" stroke-dasharray="15 11.55 0 11.85" stroke-dashoffset="0"/>
<path d="M60.2,360.1 61.4,359.0 62.5,357.9 63.7,356.8 64.8,355.7 66.0,354.5 67.2,353.4 68.3,352.3 69.5,351.2 70.6,350.1 71.8,348.9 72.9,347.8 74.1,346.7 75.3,345.6 76.4,344.5 77.6,343.3 78.7,342.2 79.9,341.1 81.1,340.0 82.2,338.8 83.4,337.7 84.5,336.6 85.7,335.5 86.8,334.3 88.0,333.2 89.2,332.1 90.3,331.0 91.5,329.8 92.6,328.7 93.8,327.6 95.0,326.4 96.1,325.3 97.3,324.2 98.4,323.0 99.6,321.9 100.8,320.8 101.9,319.6 103.1,318.5 104.2,317.4 105.4,316.2 106.5,315.1 107.7,314.0 108.9,312.8 110.0,311.7 111.2,310.6 112.3,309.4 113.5,308.3 114.7,307.1 115.8,306.0 117.0,304.8 118.1,303.7 119.3,302.6 120.4,301.4 121.6,300.3 122.8,299.1 123.9,298.0 125.1,296.8 126.2,295.7 127.4,294.5 128.6,293.4 129.7,292.2 130.9,291.0 132.0,289.9 133.2,288.7 134.4,287.6 135.5,286.4 136.7,285.2 137.8,284.1 139.0,282.9 140.1,281.8 141.3,280.6 142.5,279.4 143.6,278.2 144.8,277.1 145.9,275.9 147.1,274.7 148.3,273.5 149.4,272.4 150.6,271.2 151.7,270.0 152.9,268.8 154.0,267.6 155.2,266.4 156.4,265.2 157.5,264.0 158.7,262.9 159.8,261.7 161.0,260.5 162.2,259.3 163.3,258.0 164.5,256.8 165.6,255.6 166.8,254.4 167.9,253.2 169.1,252.0 170.3,250.8 171.4,249.5 172.6,248.3 173.7,247.1 174.9,245.9 176.1,244.6 177.2,243.4 178.4,242.1 179.5,240.9 180.7,239.6 181.9,238.4 183.0,237.1 184.2,235.9 185.3,234.6 186.5,233.3 187.6,232.1 188.8,230.8 190.0,229.5 191.1,228.2 192.3,226.9 193.4,225.6 194.6,224.3 195.8,223.0 196.9,221.7 198.1,220.4 199.2,219.1 200.4,217.8 201.5,216.4 202.7,215.1 203.9,213.8 205.0,212.4 206.2,211.1 207.3,209.7 208.5,208.3 209.7,206.9 210.8,205.6 212.0,204.2 213.1,202.8 214.3,201.4 215.5,200.0 216.6,198.5 217.8,197.1 218.9,195.7 220.1,194.2 221.2,192.8 222.4,191.3 223.6,189.8 224.7,188.3 225.9,186.9 227.0,185.3 228.2,183.8 229.4,182.3 230.5,180.8 231.7,179.2 232.8,177.7 234.0,176.1 235.1,174.5 236.3,172.9 237.5,171.3 238.6,169.6 239.8,168.0 240.9,166.3 242.1,164.7 243.3,163.0 244.4,161.3 245.6,159.5 246.7,157.8 247.9,156.0 249.1,154.3 250.2,152.5 251.4,150.6 252.5,148.8 253.7,147.0 254.8,145.1 256.0,143.2 257.2,141.2 258.3,139.3 259.5,137.3 260.6,135.3 261.8,133.3 263.0,131.2 264.1,129.2 265.3,127.0 266.4,124.9 267.6,122.7 268.7,120.5 269.9,118.3 271.1,116.0 272.2,113.7 273.4,111.4 274.5,109.0 275.7,106.6 276.9,104.2 278.0,101.7 279.2,99.2 280.3,96.7 281.5,94.1 282.7,91.5 283.8,88.8 285.0,86.1 286.1,83.4 287.3,80.7 288.4,77.9 289.6,75.1 290.8,72.3 291.9,69.5 293.1,66.6 294.2,63.8 295.4,61.0 296.6,58.2 297.7,55.5 298.9,52.8 300.0,50.1 301.2,47.6 302.3,45.2 303.5,43.0 304.7,40.9 305.8,39.0 307.0,37.3 308.1,35.9 309.3,34.7 310.5,33.9 311.6,33.4 312.8,33.2 313.9,33.3 315.1,33.7 316.3,34.5 317.4,35.6 318.6,36.9 319.7,38.5 320.9,40.3 322.0,42.4 323.2,44.6 324.4,47.0 325.5,49.5 326.7,52.1 327.8,54.7 329.0,57.5 330.2,60.3 331.3,63.1 332.5,65.9 333.6,68.7 334.8,71.6 335.9,74.4 337.1,77.2 338.3,80.0 339.4,82.7 340.6,85.4 341.7,88.1 342.9,90.8 344.1,93.4 345.2,96.0 346.4,98.6 347.5,101.1 348.7,103.6 349.9,106.0 351.0,108.4 352.2,110.8 353.3,113.1 354.5,115.4 355.6,117.7 356.8,120.0 358.0,122.2 359.1,124.3 360.3,126.5 361.4,128.6 362.6,130.7 363.8,132.8 364.9,134.8 366.1,136.8 367.2,138.8 368.4,140.7 369.5,142.7 370.7,144.6 371.9,146.5 373.0,148.3 374.2,150.2 375.3,152.0 376.5,153.8 377.7,155.6 378.8,157.3 380.0,159.1 381.1,160.8 382.3,162.5 383.4,164.2 384.6,165.9 385.8,167.6 386.9,169.2 388.1,170.8 389.2,172.5 390.4,174.1 391.6,175.7 392.7,177.2 393.9,178.8 395.0,180.4 396.2,181.9 397.4,183.4 398.5,184.9 399.7,186.5 400.8,188.0 402.0,189.4 403.1,190.9 404.3,192.4 405.5,193.8 406.6,195.3 407.8,196.7 408.9,198.2 410.1,199.6 411.3,201.0 412.4,202.4 413.6,203.8 414.7,205.2 415.9,206.6 417.0,208.0 418.2,209.3 419.4,210.7 420.5,212.1 421.7,213.4 422.8,214.7 424.0,216.1 425.2,217.4 426.3,218.7 427.5,220.1 428.6,221.4 429.8,222.7 431.0,224.0 432.1,225.3 433.3,226.6 434.4,227.9 435.6,229.2 436.7,230.5 437.9,231.7 439.1,233.0 440.2,234.3 441.4,235.5 442.5,236.8 443.7,238.1 444.9,239.3 446.0,240.6 447.2,241.8 448.3,243.1 449.5,244.3 450.6,245.5 451.8,246.8 453.0,248.0 454.1,249.2 455.3,250.4 456.4,251.7 457.6,252.9 458.8,254.1 459.9,255.3 461.1,256.5 462.2,257.7 463.4,258.9 464.6,260.1 465.7,261.3 466.9,262.5 468.0,263.7 469.2,264.9 470.3,266.1 471.5,267.3 472.7,268.5 473.8,269.7 475.0,270.9 476.1,272.1 477.3,273.2 478.5,274.4 479.6,275.6 480.8,276.8 481.9,277.9 483.1,279.1 484.2,280.3 485.4,281.4 486.6,282.6 487.7,283.8 488.9,284.9 490.0,286.1 491.2,287.3 492.4,288.4 493.5,289.6 494.7,290.7 495.8,291.9 497.0,293.1 498.2,294.2 499.3,295.4 500.5,296.5 501.6,297.7 502.8,298.8 503.9,300.0 505.1,301.1 506.3,302.3 507.4,303.4 508.6,304.5 509.7,305.7 510.9,306.8 512.1,308.0 513.2,309.1 514.4,310.3 515.5,311.4 516.7,312.5 517.8,313.7 519.0,314.8 520.2,315.9 521.3,317.1 522.5,318.2 523.6,319.4 524.8,320.5 526.0,321.6 527.1,322.8 528.3,323.9 529.4,325.0 530.6,326.1 531.8,327.3 532.9,328.4 534.1,329.5 535.2,330.7 536.4,331.8 537.5,332.9 538.7,334.0 539.9,335.2 541.0,336.3 542.2,337.4 543.3,338.5 544.5,339.7 545.7,340.8" stroke="#000000" stroke-width="3.0" fill="none" stroke-linejoin="round"/>
</g>
<rect x="60.6" y="11.7" width="483.9" height="377.8" fill="none" stroke="#000" stroke-width="2.9"/>
<path d="M60.6,335.3H65.8M544.5,335.3H539.3M60.6,281.4H65.8M544.5,281.4H539.3M60.6,227.4H65.8M544.5,227.4H539.3M60.6,173.4H65.8M544.5,173.4H539.3M60.6,119.4H65.8M544.5,119.4H539.3M60.6,65.5H65.8M544.5,65.5H539.3M128.3,389.5V385.5M128.3,11.7V15.7M168.1,389.5V385.5M168.1,11.7V15.7M196.4,389.5V385.5M196.4,11.7V15.7M218.3,389.5V385.5M218.3,11.7V15.7M236.2,389.5V385.5M236.2,11.7V15.7M251.4,389.5V385.5M251.4,11.7V15.7M264.5,389.5V385.5M264.5,11.7V15.7M276.0,389.5V385.5M276.0,11.7V15.7M286.4,389.5V383.3M286.4,11.7V17.9M354.5,389.5V385.5M354.5,11.7V15.7M394.3,389.5V385.5M394.3,11.7V15.7M422.6,389.5V385.5M422.6,11.7V15.7M444.5,389.5V385.5M444.5,11.7V15.7M462.4,389.5V385.5M462.4,11.7V15.7M477.6,389.5V385.5M477.6,11.7V15.7M490.7,389.5V385.5M490.7,11.7V15.7M502.2,389.5V385.5M502.2,11.7V15.7M512.6,389.5V383.3M512.6,11.7V17.9" stroke="#000" stroke-width="2.2" fill="none"/>
<text transform="translate(52.9,396.7) scale(1,1.04)" text-anchor="end" style="font-family:'Liberation Serif','Times New Roman',serif;font-weight:bold;font-size:17.6px">−<tspan dx="-1.2">25</tspan></text>
<text transform="translate(53.3,342.1) scale(1,1.04)" text-anchor="end" style="font-family:'Liberation Serif','Times New Roman',serif;font-weight:bold;font-size:17.6px">−<tspan dx="-1.2">20</tspan></text>
<text transform="translate(53.3,288.1) scale(1,1.04)" text-anchor="end" style="font-family:'Liberation Serif','Times New Roman',serif;font-weight:bold;font-size:17.6px">−<tspan dx="-1.2">15</tspan></text>
<text transform="translate(53.3,234.0) scale(1,1.04)" text-anchor="end" style="font-family:'Liberation Serif','Times New Roman',serif;font-weight:bold;font-size:17.6px">−<tspan dx="-1.2">10</tspan></text>
<text transform="translate(54.8,179.7) scale(1,1.04)" text-anchor="end" style="font-family:'Liberation Serif','Times New Roman',serif;font-weight:bold;font-size:17.6px">−<tspan dx="-1.2">5</tspan></text>
<text transform="translate(53.3,125.1) scale(1,1.04)" text-anchor="end" style="font-family:'Liberation Serif','Times New Roman',serif;font-weight:bold;font-size:17.6px">0</text>
<text transform="translate(53.3,71.8) scale(1,1.04)" text-anchor="end" style="font-family:'Liberation Serif','Times New Roman',serif;font-weight:bold;font-size:17.6px">5</text>
<text transform="translate(52.3,18.4) scale(1,1.04)" text-anchor="end" style="font-family:'Liberation Serif','Times New Roman',serif;font-weight:bold;font-size:17.6px">10</text>
<text transform="translate(59.8,420.1) scale(1,1.04)" text-anchor="middle" style="font-family:'Liberation Serif','Times New Roman',serif;font-weight:bold;font-size:17.6px">10</text>
<text transform="translate(70.1,405.6) scale(1,1.04)" text-anchor="start" style="font-family:'Liberation Serif','Times New Roman',serif;font-weight:bold;font-size:11px">4</text>
<text transform="translate(286.0,420.1) scale(1,1.04)" text-anchor="middle" style="font-family:'Liberation Serif','Times New Roman',serif;font-weight:bold;font-size:17.6px">10</text>
<text transform="translate(296.3,405.6) scale(1,1.04)" text-anchor="start" style="font-family:'Liberation Serif','Times New Roman',serif;font-weight:bold;font-size:11px">5</text>
<text transform="translate(512.2,420.1) scale(1,1.04)" text-anchor="middle" style="font-family:'Liberation Serif','Times New Roman',serif;font-weight:bold;font-size:17.6px">10</text>
<text transform="translate(522.5,405.6) scale(1,1.04)" text-anchor="start" style="font-family:'Liberation Serif','Times New Roman',serif;font-weight:bold;font-size:11px">6</text>
<text transform="translate(299.8,441.6) scale(1,1.04)" text-anchor="middle" style="font-family:'Liberation Serif','Times New Roman',serif;font-weight:bold;font-size:17.6px" letter-spacing="0.2">Frequency, Hz</text>
<text transform="translate(18,205.7) rotate(-90) scale(1,1.04)" text-anchor="middle" style="font-family:'Liberation Serif','Times New Roman',serif;font-weight:bold;font-size:17.6px">Gain, dB</text>
<circle cx="82.3" cy="44.0" r="1.45" fill="#800000"/>
<circle cx="93.6" cy="44.0" r="1.45" fill="#800000"/>
<circle cx="104.9" cy="44.0" r="1.45" fill="#800000"/>
<circle cx="116.2" cy="44.0" r="1.45" fill="#800000"/>
<text transform="translate(139.6,52.9) scale(1,1.04)" text-anchor="start" style="font-family:'Liberation Serif','Times New Roman',serif;font-weight:bold;font-size:17.6px" letter-spacing="0.1">Theo. (Q = 0.8)</text>
<path d="M82.64999999999999,65.2H97.65M109.19999999999999,65.2h0.01M121.04999999999998,65.2H127.05000000000001" stroke="#00ff00" stroke-width="2.7" stroke-linecap="round"/>
<text transform="translate(139.2,74.3) scale(1,1.04)" text-anchor="start" style="font-family:'Liberation Serif','Times New Roman',serif;font-weight:bold;font-size:17.6px" letter-spacing="0.18">Sim. (Q = 0.95)</text>
<path d="M82.64999999999999,86.3H127.05000000000001" stroke="#0000ff" stroke-width="2.7" stroke-linecap="round"/>
<text transform="translate(139.4,95.8) scale(1,1.04)" text-anchor="start" style="font-family:'Liberation Serif','Times New Roman',serif;font-weight:bold;font-size:17.6px" letter-spacing="0.18">Exp. (Q = 0.94)</text>
<circle cx="362.3" cy="44.0" r="1.45" fill="#ff00ff"/>
<circle cx="373.6" cy="44.0" r="1.45" fill="#ff00ff"/>
<circle cx="384.9" cy="44.0" r="1.45" fill="#ff00ff"/>
<circle cx="396.2" cy="44.0" r="1.45" fill="#ff00ff"/>
<text transform="translate(420.3,52.9) scale(1,1.04)" text-anchor="start" style="font-family:'Liberation Serif','Times New Roman',serif;font-weight:bold;font-size:17.6px" letter-spacing="0.1">Theo. (Q = 1.36)</text>
<path d="M362.65000000000003,65.2H377.65M389.2,65.2h0.01M401.05,65.2H407.05" stroke="#ff0000" stroke-width="2.7" stroke-linecap="round"/>
<text transform="translate(419.9,74.3) scale(1,1.04)" text-anchor="start" style="font-family:'Liberation Serif','Times New Roman',serif;font-weight:bold;font-size:17.6px" letter-spacing="0.18">Sim. (Q = 1.49)</text>
<path d="M362.65000000000003,86.3H407.05" stroke="#00ff00" stroke-width="2.7" stroke-linecap="round"/>
<text transform="translate(420.1,95.8) scale(1,1.04)" text-anchor="start" style="font-family:'Liberation Serif','Times New Roman',serif;font-weight:bold;font-size:17.6px" letter-spacing="0.18">Exp. (Q = 1.46)</text>
<circle cx="240.1" cy="242.0" r="1.45" fill="#00ff00"/>
<circle cx="251.4" cy="242.0" r="1.45" fill="#00ff00"/>
<circle cx="262.7" cy="242.0" r="1.45" fill="#00ff00"/>
<circle cx="274.0" cy="242.0" r="1.45" fill="#00ff00"/>
<text transform="translate(298.4,251.7) scale(1,1.04)" text-anchor="start" style="font-family:'Liberation Serif','Times New Roman',serif;font-weight:bold;font-size:17.6px" letter-spacing="0.1">Theo. (Q = 1.92)</text>
<path d="M240.45,263.3H255.45000000000002M267.0,263.3h0.01M278.85,263.3H284.84999999999997" stroke="#0000ff" stroke-width="2.7" stroke-linecap="round"/>
<text transform="translate(297.2,272.7) scale(1,1.04)" text-anchor="start" style="font-family:'Liberation Serif','Times New Roman',serif;font-weight:bold;font-size:17.6px" letter-spacing="0.18">Sim. (Q = 2.12)</text>
<path d="M240.45,283.6H284.84999999999997" stroke="#ff0000" stroke-width="2.7" stroke-linecap="round"/>
<text transform="translate(297.6,292.6) scale(1,1.04)" text-anchor="start" style="font-family:'Liberation Serif','Times New Roman',serif;font-weight:bold;font-size:17.6px" letter-spacing="0.18">Exp. (Q = 2.11)</text>
<circle cx="239.3" cy="313.75" r="1.45" fill="#0000ff"/>
<circle cx="250.6" cy="313.75" r="1.45" fill="#0000ff"/>
<circle cx="261.9" cy="313.75" r="1.45" fill="#0000ff"/>
<circle cx="273.2" cy="313.75" r="1.45" fill="#0000ff"/>
<text transform="translate(296.8,322.2) scale(1,1.04)" text-anchor="start" style="font-family:'Liberation Serif','Times New Roman',serif;font-weight:bold;font-size:17.6px" letter-spacing="0.1">Theo. (Q = 2.5)</text>
<path d="M239.65,337.2H254.65M266.2,337.2h0.01M278.05,337.2H284.05" stroke="#ff00ff" stroke-width="2.7" stroke-linecap="round"/>
<text transform="translate(295.6,347.1) scale(1,1.04)" text-anchor="start" style="font-family:'Liberation Serif','Times New Roman',serif;font-weight:bold;font-size:17.6px" letter-spacing="0.18">Sim. (Q = 2.89)</text>
<path d="M239.65,360.8H284.05" stroke="#000000" stroke-width="2.7" stroke-linecap="round"/>
<text transform="translate(295.8,371.3) scale(1,1.04)" text-anchor="start" style="font-family:'Liberation Serif','Times New Roman',serif;font-weight:bold;font-size:17.6px" letter-spacing="0.18">Exp. (Q = 2.95)</text>
</svg></body></html>
